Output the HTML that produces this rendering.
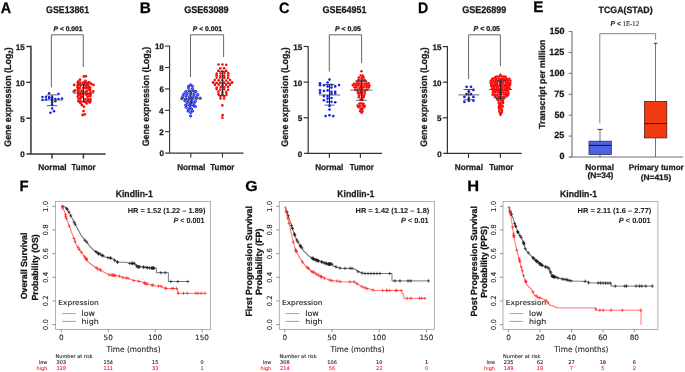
<!DOCTYPE html>
<html><head><meta charset="utf-8"><title>Figure</title>
<style>html,body{margin:0;padding:0;background:#fff;overflow:hidden;} svg{display:block;} text{text-rendering:geometricPrecision;}</style>
</head><body>
<svg width="685" height="372" viewBox="0 0 685 372">
<rect x="0" y="0" width="685" height="372" fill="#ffffff"/>
<text x="0.84" y="12.80" font-family="'Liberation Sans', Arial, sans-serif" font-weight="bold" font-size="15.36" textLength="10.38" lengthAdjust="spacingAndGlyphs" fill="#000" stroke="#000" stroke-width="0.25">A</text>
<text x="46.10" y="12.60" font-family="'Liberation Sans', Arial, sans-serif" font-weight="bold" font-size="9.79" textLength="43.00" lengthAdjust="spacingAndGlyphs" fill="#1a1a1a" stroke="#1a1a1a" stroke-width="0.25">GSE13861</text>
<text x="53.56" y="30.93" font-family="'Liberation Sans', Arial, sans-serif" font-weight="bold" font-size="6.76" textLength="29.07" lengthAdjust="spacingAndGlyphs" fill="#1a1a1a" stroke="#1a1a1a" stroke-width="0.25"><tspan font-style="italic">P</tspan> &lt; 0.001</text>
<polyline points="51.35,87.30 51.35,34.80 83.30,34.80 83.30,67.00" fill="none" stroke="#666" stroke-width="1.0"/>
<line x1="30.95" y1="45.75" x2="30.95" y2="154.10" stroke="#333333" stroke-width="1.5"/>
<line x1="26.50" y1="154.10" x2="105.60" y2="154.10" stroke="#333333" stroke-width="1.5"/>
<text x="20.33" y="157.47" font-family="'Liberation Sans', Arial, sans-serif" font-weight="bold" font-size="8.03" textLength="4.47" lengthAdjust="spacingAndGlyphs" fill="#1a1a1a" stroke="#1a1a1a" stroke-width="0.25">0</text>
<line x1="26.35" y1="118.23" x2="30.95" y2="118.23" stroke="#333333" stroke-width="1.5"/>
<text x="20.18" y="121.60" font-family="'Liberation Sans', Arial, sans-serif" font-weight="bold" font-size="8.14" textLength="4.53" lengthAdjust="spacingAndGlyphs" fill="#1a1a1a" stroke="#1a1a1a" stroke-width="0.25">5</text>
<line x1="26.35" y1="82.37" x2="30.95" y2="82.37" stroke="#333333" stroke-width="1.5"/>
<text x="15.87" y="85.74" font-family="'Liberation Sans', Arial, sans-serif" font-weight="bold" font-size="8.03" textLength="8.93" lengthAdjust="spacingAndGlyphs" fill="#1a1a1a" stroke="#1a1a1a" stroke-width="0.25">10</text>
<line x1="26.35" y1="46.50" x2="30.95" y2="46.50" stroke="#333333" stroke-width="1.5"/>
<text x="15.66" y="49.87" font-family="'Liberation Sans', Arial, sans-serif" font-weight="bold" font-size="8.14" textLength="9.06" lengthAdjust="spacingAndGlyphs" fill="#1a1a1a" stroke="#1a1a1a" stroke-width="0.25">15</text>
<line x1="52.05" y1="154.10" x2="52.05" y2="158.50" stroke="#333333" stroke-width="1.5"/>
<line x1="83.40" y1="154.10" x2="83.40" y2="158.50" stroke="#333333" stroke-width="1.5"/>
<text x="38.26" y="169.72" font-family="'Liberation Sans', Arial, sans-serif" font-weight="bold" font-size="8.30" textLength="28.37" lengthAdjust="spacingAndGlyphs" fill="#1a1a1a" stroke="#1a1a1a" stroke-width="0.25">Normal</text>
<text x="71.62" y="169.71" font-family="'Liberation Sans', Arial, sans-serif" font-weight="bold" font-size="8.71" textLength="23.97" lengthAdjust="spacingAndGlyphs" fill="#1a1a1a" stroke="#1a1a1a" stroke-width="0.25">Tumor</text>
<text x="10.90" y="146.75" transform="rotate(-90 10.90 146.75)" font-family="'Liberation Sans', Arial, sans-serif" font-weight="bold" font-size="9.52" textLength="99.45" lengthAdjust="spacingAndGlyphs" fill="#1a1a1a" stroke="#1a1a1a" stroke-width="0.25">Gene expression (Log<tspan font-size="6.66" dy="1.90">2</tspan><tspan dy="-1.90">)</tspan></text>
<circle cx="49.1" cy="93.3" r="1.25" fill="#1020ee"/>
<circle cx="58.5" cy="94.1" r="1.25" fill="#1020ee"/>
<circle cx="42.5" cy="97" r="1.25" fill="#1020ee"/>
<circle cx="42.5" cy="99.9" r="1.25" fill="#1020ee"/>
<circle cx="46" cy="96.8" r="1.25" fill="#1020ee"/>
<circle cx="46" cy="99.6" r="1.25" fill="#1020ee"/>
<circle cx="49.1" cy="97" r="1.25" fill="#1020ee"/>
<circle cx="49.1" cy="98.2" r="1.25" fill="#1020ee"/>
<circle cx="52.1" cy="97.2" r="1.25" fill="#1020ee"/>
<circle cx="52.1" cy="98.9" r="1.25" fill="#1020ee"/>
<circle cx="52.1" cy="100.5" r="1.25" fill="#1020ee"/>
<circle cx="55.4" cy="98.9" r="1.25" fill="#1020ee"/>
<circle cx="55.4" cy="101.2" r="1.25" fill="#1020ee"/>
<circle cx="58.5" cy="98.9" r="1.25" fill="#1020ee"/>
<circle cx="62" cy="98.6" r="1.25" fill="#1020ee"/>
<circle cx="52.1" cy="102.4" r="1.25" fill="#1020ee"/>
<circle cx="52.1" cy="104.8" r="1.25" fill="#1020ee"/>
<circle cx="52.1" cy="108.5" r="1.25" fill="#1020ee"/>
<circle cx="54" cy="111.2" r="1.25" fill="#1020ee"/>
<circle cx="50.5" cy="112.8" r="1.25" fill="#1020ee"/>
<line x1="41.35" y1="100.00" x2="62.85" y2="100.00" stroke="#505050" stroke-width="0.85"/>
<line x1="46.85" y1="94.90" x2="57.35" y2="94.90" stroke="#404040" stroke-width="0.85"/>
<line x1="46.85" y1="105.70" x2="57.35" y2="105.70" stroke="#404040" stroke-width="0.85"/>
<line x1="52.10" y1="94.90" x2="52.10" y2="105.70" stroke="#1a1a1a" stroke-width="0.95"/>
<circle cx="83.90" cy="76.50" r="1.4" fill="#f51010"/>
<circle cx="85.80" cy="76.20" r="1.4" fill="#f51010"/>
<circle cx="80.00" cy="79.70" r="1.4" fill="#f51010"/>
<circle cx="78.10" cy="81.70" r="1.4" fill="#f51010"/>
<circle cx="85.50" cy="81.00" r="1.4" fill="#f51010"/>
<circle cx="83.90" cy="82.30" r="1.4" fill="#f51010"/>
<circle cx="89.40" cy="82.30" r="1.4" fill="#f51010"/>
<circle cx="91.30" cy="83.90" r="1.4" fill="#f51010"/>
<circle cx="74.20" cy="84.90" r="1.4" fill="#f51010"/>
<circle cx="78.40" cy="84.90" r="1.4" fill="#f51010"/>
<circle cx="86.10" cy="84.90" r="1.4" fill="#f51010"/>
<circle cx="93.50" cy="84.90" r="1.4" fill="#f51010"/>
<circle cx="80.60" cy="85.50" r="1.4" fill="#f51010"/>
<circle cx="88.10" cy="85.50" r="1.4" fill="#f51010"/>
<circle cx="77.70" cy="87.50" r="1.4" fill="#f51010"/>
<circle cx="85.80" cy="87.50" r="1.4" fill="#f51010"/>
<circle cx="88.70" cy="87.50" r="1.4" fill="#f51010"/>
<circle cx="79.70" cy="88.10" r="1.4" fill="#f51010"/>
<circle cx="75.20" cy="90.40" r="1.4" fill="#f51010"/>
<circle cx="78.40" cy="90.40" r="1.4" fill="#f51010"/>
<circle cx="81.60" cy="90.70" r="1.4" fill="#f51010"/>
<circle cx="86.80" cy="90.70" r="1.4" fill="#f51010"/>
<circle cx="89.40" cy="90.10" r="1.4" fill="#f51010"/>
<circle cx="73.90" cy="91.40" r="1.4" fill="#f51010"/>
<circle cx="93.20" cy="91.40" r="1.4" fill="#f51010"/>
<circle cx="78.40" cy="93.90" r="1.4" fill="#f51010"/>
<circle cx="86.80" cy="93.90" r="1.4" fill="#f51010"/>
<circle cx="89.40" cy="93.90" r="1.4" fill="#f51010"/>
<circle cx="81.00" cy="94.30" r="1.4" fill="#f51010"/>
<circle cx="81.90" cy="105.00" r="1.4" fill="#f51010"/>
<circle cx="83.90" cy="106.60" r="1.4" fill="#f51010"/>
<circle cx="83.50" cy="111.10" r="1.4" fill="#f51010"/>
<circle cx="82.60" cy="115.00" r="1.4" fill="#f51010"/>
<circle cx="84.80" cy="114.30" r="1.4" fill="#f51010"/>
<circle cx="80.50" cy="103.20" r="1.4" fill="#f51010"/>
<circle cx="86.50" cy="103.40" r="1.4" fill="#f51010"/>
<circle cx="89.60" cy="102.60" r="1.4" fill="#f51010"/>
<circle cx="77.81" cy="82.89" r="1.4" fill="#f51010"/>
<circle cx="80.29" cy="82.61" r="1.4" fill="#f51010"/>
<circle cx="83.36" cy="82.65" r="1.4" fill="#f51010"/>
<circle cx="85.71" cy="82.64" r="1.4" fill="#f51010"/>
<circle cx="87.95" cy="82.91" r="1.4" fill="#f51010"/>
<circle cx="77.72" cy="85.74" r="1.4" fill="#f51010"/>
<circle cx="80.35" cy="85.13" r="1.4" fill="#f51010"/>
<circle cx="83.56" cy="85.01" r="1.4" fill="#f51010"/>
<circle cx="85.63" cy="85.35" r="1.4" fill="#f51010"/>
<circle cx="77.90" cy="87.94" r="1.4" fill="#f51010"/>
<circle cx="83.34" cy="87.97" r="1.4" fill="#f51010"/>
<circle cx="85.27" cy="87.90" r="1.4" fill="#f51010"/>
<circle cx="87.69" cy="87.74" r="1.4" fill="#f51010"/>
<circle cx="89.99" cy="87.44" r="1.4" fill="#f51010"/>
<circle cx="78.10" cy="90.05" r="1.4" fill="#f51010"/>
<circle cx="90.26" cy="89.58" r="1.4" fill="#f51010"/>
<circle cx="78.25" cy="92.37" r="1.4" fill="#f51010"/>
<circle cx="80.34" cy="92.62" r="1.4" fill="#f51010"/>
<circle cx="83.30" cy="91.80" r="1.4" fill="#f51010"/>
<circle cx="85.96" cy="92.35" r="1.4" fill="#f51010"/>
<circle cx="90.40" cy="92.50" r="1.4" fill="#f51010"/>
<circle cx="78.49" cy="94.56" r="1.4" fill="#f51010"/>
<circle cx="80.25" cy="94.98" r="1.4" fill="#f51010"/>
<circle cx="82.79" cy="94.34" r="1.4" fill="#f51010"/>
<circle cx="85.90" cy="94.48" r="1.4" fill="#f51010"/>
<circle cx="88.29" cy="94.28" r="1.4" fill="#f51010"/>
<circle cx="90.56" cy="94.64" r="1.4" fill="#f51010"/>
<circle cx="77.81" cy="96.44" r="1.4" fill="#f51010"/>
<circle cx="80.84" cy="97.27" r="1.4" fill="#f51010"/>
<circle cx="82.85" cy="97.07" r="1.4" fill="#f51010"/>
<circle cx="87.51" cy="96.68" r="1.4" fill="#f51010"/>
<circle cx="90.13" cy="96.35" r="1.4" fill="#f51010"/>
<circle cx="78.57" cy="98.65" r="1.4" fill="#f51010"/>
<circle cx="80.36" cy="98.79" r="1.4" fill="#f51010"/>
<circle cx="85.23" cy="99.05" r="1.4" fill="#f51010"/>
<circle cx="88.02" cy="99.46" r="1.4" fill="#f51010"/>
<circle cx="90.47" cy="99.32" r="1.4" fill="#f51010"/>
<circle cx="78.42" cy="101.37" r="1.4" fill="#f51010"/>
<circle cx="80.27" cy="101.68" r="1.4" fill="#f51010"/>
<circle cx="83.54" cy="101.59" r="1.4" fill="#f51010"/>
<circle cx="85.22" cy="101.75" r="1.4" fill="#f51010"/>
<circle cx="87.92" cy="101.04" r="1.4" fill="#f51010"/>
<circle cx="90.26" cy="101.33" r="1.4" fill="#f51010"/>
<line x1="72.75" y1="93.10" x2="94.25" y2="93.10" stroke="#505050" stroke-width="0.85"/>
<line x1="77.50" y1="84.10" x2="89.50" y2="84.10" stroke="#404040" stroke-width="0.85"/>
<line x1="77.50" y1="101.20" x2="89.50" y2="101.20" stroke="#404040" stroke-width="0.85"/>
<line x1="83.50" y1="84.10" x2="83.50" y2="101.20" stroke="#1a1a1a" stroke-width="0.95"/>
<text x="139.70" y="12.80" font-family="'Liberation Sans', Arial, sans-serif" font-weight="bold" font-size="15.36" textLength="11.16" lengthAdjust="spacingAndGlyphs" fill="#000" stroke="#000" stroke-width="0.25">B</text>
<text x="184.14" y="12.60" font-family="'Liberation Sans', Arial, sans-serif" font-weight="bold" font-size="9.79" textLength="44.51" lengthAdjust="spacingAndGlyphs" fill="#1a1a1a" stroke="#1a1a1a" stroke-width="0.25">GSE63089</text>
<text x="192.86" y="31.33" font-family="'Liberation Sans', Arial, sans-serif" font-weight="bold" font-size="6.76" textLength="29.12" lengthAdjust="spacingAndGlyphs" fill="#1a1a1a" stroke="#1a1a1a" stroke-width="0.25"><tspan font-style="italic">P</tspan> &lt; 0.001</text>
<polyline points="190.50,77.00 190.50,34.80 223.60,34.80 223.60,57.00" fill="none" stroke="#666" stroke-width="1.0"/>
<line x1="169.60" y1="45.55" x2="169.60" y2="153.10" stroke="#333333" stroke-width="1.1"/>
<line x1="165.20" y1="153.10" x2="243.50" y2="153.10" stroke="#333333" stroke-width="1.1"/>
<text x="159.43" y="156.47" font-family="'Liberation Sans', Arial, sans-serif" font-weight="bold" font-size="8.03" textLength="4.47" lengthAdjust="spacingAndGlyphs" fill="#1a1a1a" stroke="#1a1a1a" stroke-width="0.25">0</text>
<line x1="165.00" y1="131.70" x2="169.60" y2="131.70" stroke="#333333" stroke-width="1.1"/>
<text x="159.37" y="135.15" font-family="'Liberation Sans', Arial, sans-serif" font-weight="bold" font-size="8.14" textLength="4.53" lengthAdjust="spacingAndGlyphs" fill="#1a1a1a" stroke="#1a1a1a" stroke-width="0.25">2</text>
<line x1="165.00" y1="110.30" x2="169.60" y2="110.30" stroke="#333333" stroke-width="1.1"/>
<text x="159.02" y="113.75" font-family="'Liberation Sans', Arial, sans-serif" font-weight="bold" font-size="8.26" textLength="4.59" lengthAdjust="spacingAndGlyphs" fill="#1a1a1a" stroke="#1a1a1a" stroke-width="0.25">4</text>
<line x1="165.00" y1="88.90" x2="169.60" y2="88.90" stroke="#333333" stroke-width="1.1"/>
<text x="159.43" y="92.27" font-family="'Liberation Sans', Arial, sans-serif" font-weight="bold" font-size="8.03" textLength="4.47" lengthAdjust="spacingAndGlyphs" fill="#1a1a1a" stroke="#1a1a1a" stroke-width="0.25">6</text>
<line x1="165.00" y1="67.50" x2="169.60" y2="67.50" stroke="#333333" stroke-width="1.1"/>
<text x="159.35" y="70.87" font-family="'Liberation Sans', Arial, sans-serif" font-weight="bold" font-size="8.03" textLength="4.47" lengthAdjust="spacingAndGlyphs" fill="#1a1a1a" stroke="#1a1a1a" stroke-width="0.25">8</text>
<line x1="165.00" y1="46.10" x2="169.60" y2="46.10" stroke="#333333" stroke-width="1.1"/>
<text x="154.97" y="49.47" font-family="'Liberation Sans', Arial, sans-serif" font-weight="bold" font-size="8.03" textLength="8.93" lengthAdjust="spacingAndGlyphs" fill="#1a1a1a" stroke="#1a1a1a" stroke-width="0.25">10</text>
<line x1="190.80" y1="153.10" x2="190.80" y2="157.50" stroke="#333333" stroke-width="1.1"/>
<line x1="222.50" y1="153.10" x2="222.50" y2="157.50" stroke="#333333" stroke-width="1.1"/>
<text x="177.17" y="169.72" font-family="'Liberation Sans', Arial, sans-serif" font-weight="bold" font-size="8.30" textLength="28.17" lengthAdjust="spacingAndGlyphs" fill="#1a1a1a" stroke="#1a1a1a" stroke-width="0.25">Normal</text>
<text x="210.32" y="169.71" font-family="'Liberation Sans', Arial, sans-serif" font-weight="bold" font-size="8.71" textLength="24.07" lengthAdjust="spacingAndGlyphs" fill="#1a1a1a" stroke="#1a1a1a" stroke-width="0.25">Tumor</text>
<text x="149.30" y="146.35" transform="rotate(-90 149.30 146.35)" font-family="'Liberation Sans', Arial, sans-serif" font-weight="bold" font-size="9.52" textLength="99.45" lengthAdjust="spacingAndGlyphs" fill="#1a1a1a" stroke="#1a1a1a" stroke-width="0.25">Gene expression (Log<tspan font-size="6.66" dy="1.90">2</tspan><tspan dy="-1.90">)</tspan></text>
<circle cx="190.6" cy="84.9" r="1.15" fill="#7080ff" stroke="#1020ee" stroke-width="0.9"/>
<circle cx="188.6" cy="86.3" r="1.15" fill="#7080ff" stroke="#1020ee" stroke-width="0.9"/>
<circle cx="192.5" cy="86.3" r="1.15" fill="#7080ff" stroke="#1020ee" stroke-width="0.9"/>
<circle cx="188.6" cy="88.3" r="1.15" fill="#7080ff" stroke="#1020ee" stroke-width="0.9"/>
<circle cx="192.5" cy="88.8" r="1.15" fill="#7080ff" stroke="#1020ee" stroke-width="0.9"/>
<circle cx="185.7" cy="91.7" r="1.15" fill="#7080ff" stroke="#1020ee" stroke-width="0.9"/>
<circle cx="189.6" cy="91.2" r="1.15" fill="#7080ff" stroke="#1020ee" stroke-width="0.9"/>
<circle cx="193.5" cy="91.2" r="1.15" fill="#7080ff" stroke="#1020ee" stroke-width="0.9"/>
<circle cx="195.9" cy="91.7" r="1.15" fill="#7080ff" stroke="#1020ee" stroke-width="0.9"/>
<circle cx="183.8" cy="94.1" r="1.15" fill="#7080ff" stroke="#1020ee" stroke-width="0.9"/>
<circle cx="187.2" cy="93.6" r="1.15" fill="#7080ff" stroke="#1020ee" stroke-width="0.9"/>
<circle cx="190.6" cy="93.6" r="1.15" fill="#7080ff" stroke="#1020ee" stroke-width="0.9"/>
<circle cx="194" cy="94.1" r="1.15" fill="#7080ff" stroke="#1020ee" stroke-width="0.9"/>
<circle cx="197.8" cy="94.6" r="1.15" fill="#7080ff" stroke="#1020ee" stroke-width="0.9"/>
<circle cx="182.8" cy="96.5" r="1.15" fill="#7080ff" stroke="#1020ee" stroke-width="0.9"/>
<circle cx="186.2" cy="96" r="1.15" fill="#7080ff" stroke="#1020ee" stroke-width="0.9"/>
<circle cx="189.6" cy="96.5" r="1.15" fill="#7080ff" stroke="#1020ee" stroke-width="0.9"/>
<circle cx="193.5" cy="96.5" r="1.15" fill="#7080ff" stroke="#1020ee" stroke-width="0.9"/>
<circle cx="196.8" cy="96.5" r="1.15" fill="#7080ff" stroke="#1020ee" stroke-width="0.9"/>
<circle cx="181.9" cy="98.6" r="1.15" fill="#7080ff" stroke="#1020ee" stroke-width="0.9"/>
<circle cx="185.7" cy="98.9" r="1.15" fill="#7080ff" stroke="#1020ee" stroke-width="0.9"/>
<circle cx="189.1" cy="98.6" r="1.15" fill="#7080ff" stroke="#1020ee" stroke-width="0.9"/>
<circle cx="192.5" cy="98.6" r="1.15" fill="#7080ff" stroke="#1020ee" stroke-width="0.9"/>
<circle cx="196.4" cy="98.4" r="1.15" fill="#7080ff" stroke="#1020ee" stroke-width="0.9"/>
<circle cx="200.2" cy="98.2" r="1.15" fill="#7080ff" stroke="#1020ee" stroke-width="0.9"/>
<circle cx="184.8" cy="100.8" r="1.15" fill="#7080ff" stroke="#1020ee" stroke-width="0.9"/>
<circle cx="188.1" cy="100.8" r="1.15" fill="#7080ff" stroke="#1020ee" stroke-width="0.9"/>
<circle cx="192" cy="101.3" r="1.15" fill="#7080ff" stroke="#1020ee" stroke-width="0.9"/>
<circle cx="195.4" cy="101.3" r="1.15" fill="#7080ff" stroke="#1020ee" stroke-width="0.9"/>
<circle cx="187.2" cy="102.8" r="1.15" fill="#7080ff" stroke="#1020ee" stroke-width="0.9"/>
<circle cx="190.6" cy="102.8" r="1.15" fill="#7080ff" stroke="#1020ee" stroke-width="0.9"/>
<circle cx="193.9" cy="103.3" r="1.15" fill="#7080ff" stroke="#1020ee" stroke-width="0.9"/>
<circle cx="185.7" cy="105.2" r="1.15" fill="#7080ff" stroke="#1020ee" stroke-width="0.9"/>
<circle cx="189.6" cy="105.2" r="1.15" fill="#7080ff" stroke="#1020ee" stroke-width="0.9"/>
<circle cx="193.5" cy="105.7" r="1.15" fill="#7080ff" stroke="#1020ee" stroke-width="0.9"/>
<circle cx="186.2" cy="107.3" r="1.15" fill="#7080ff" stroke="#1020ee" stroke-width="0.9"/>
<circle cx="190.1" cy="107.3" r="1.15" fill="#7080ff" stroke="#1020ee" stroke-width="0.9"/>
<circle cx="195.4" cy="106.6" r="1.15" fill="#7080ff" stroke="#1020ee" stroke-width="0.9"/>
<circle cx="188.6" cy="109.5" r="1.15" fill="#7080ff" stroke="#1020ee" stroke-width="0.9"/>
<circle cx="191.5" cy="109.1" r="1.15" fill="#7080ff" stroke="#1020ee" stroke-width="0.9"/>
<circle cx="188.1" cy="111" r="1.15" fill="#7080ff" stroke="#1020ee" stroke-width="0.9"/>
<circle cx="192.5" cy="111" r="1.15" fill="#7080ff" stroke="#1020ee" stroke-width="0.9"/>
<circle cx="190.6" cy="112.7" r="1.15" fill="#7080ff" stroke="#1020ee" stroke-width="0.9"/>
<circle cx="190.6" cy="116" r="1.15" fill="#7080ff" stroke="#1020ee" stroke-width="0.9"/>
<line x1="180.00" y1="98.70" x2="202.00" y2="98.70" stroke="#505050" stroke-width="0.85"/>
<line x1="186.00" y1="90.80" x2="196.00" y2="90.80" stroke="#404040" stroke-width="0.85"/>
<line x1="186.00" y1="105.30" x2="196.00" y2="105.30" stroke="#404040" stroke-width="0.85"/>
<line x1="191.00" y1="90.80" x2="191.00" y2="105.30" stroke="#1a1a1a" stroke-width="0.95"/>
<circle cx="218.53" cy="64.52" r="1.3" fill="#f51010"/>
<circle cx="222.46" cy="64.46" r="1.3" fill="#f51010"/>
<circle cx="226.21" cy="64.69" r="1.3" fill="#f51010"/>
<circle cx="220.32" cy="68.41" r="1.3" fill="#f51010"/>
<circle cx="224.11" cy="68.35" r="1.3" fill="#f51010"/>
<circle cx="218.43" cy="70.67" r="1.3" fill="#f51010"/>
<circle cx="222.37" cy="71.26" r="1.3" fill="#f51010"/>
<circle cx="226.05" cy="70.78" r="1.3" fill="#f51010"/>
<circle cx="216.75" cy="73.66" r="1.3" fill="#f51010"/>
<circle cx="220.53" cy="73.22" r="1.3" fill="#f51010"/>
<circle cx="224.49" cy="72.94" r="1.3" fill="#f51010"/>
<circle cx="228.24" cy="73.13" r="1.3" fill="#f51010"/>
<circle cx="216.56" cy="75.29" r="1.3" fill="#f51010"/>
<circle cx="220.42" cy="75.85" r="1.3" fill="#f51010"/>
<circle cx="224.17" cy="75.67" r="1.3" fill="#f51010"/>
<circle cx="228.16" cy="75.50" r="1.3" fill="#f51010"/>
<circle cx="216.72" cy="77.55" r="1.3" fill="#f51010"/>
<circle cx="220.32" cy="77.66" r="1.3" fill="#f51010"/>
<circle cx="224.37" cy="77.84" r="1.3" fill="#f51010"/>
<circle cx="228.03" cy="77.97" r="1.3" fill="#f51010"/>
<circle cx="214.78" cy="80.04" r="1.3" fill="#f51010"/>
<circle cx="218.72" cy="80.36" r="1.3" fill="#f51010"/>
<circle cx="222.30" cy="80.26" r="1.3" fill="#f51010"/>
<circle cx="226.21" cy="80.50" r="1.3" fill="#f51010"/>
<circle cx="230.09" cy="80.03" r="1.3" fill="#f51010"/>
<circle cx="213.09" cy="82.19" r="1.3" fill="#f51010"/>
<circle cx="216.67" cy="82.71" r="1.3" fill="#f51010"/>
<circle cx="220.36" cy="82.49" r="1.3" fill="#f51010"/>
<circle cx="224.12" cy="82.63" r="1.3" fill="#f51010"/>
<circle cx="228.21" cy="82.56" r="1.3" fill="#f51010"/>
<circle cx="232.05" cy="82.35" r="1.3" fill="#f51010"/>
<circle cx="214.88" cy="84.88" r="1.3" fill="#f51010"/>
<circle cx="218.63" cy="84.76" r="1.3" fill="#f51010"/>
<circle cx="222.54" cy="85.16" r="1.3" fill="#f51010"/>
<circle cx="226.19" cy="84.93" r="1.3" fill="#f51010"/>
<circle cx="229.82" cy="84.96" r="1.3" fill="#f51010"/>
<circle cx="216.76" cy="87.49" r="1.3" fill="#f51010"/>
<circle cx="220.63" cy="86.93" r="1.3" fill="#f51010"/>
<circle cx="224.25" cy="87.23" r="1.3" fill="#f51010"/>
<circle cx="227.91" cy="87.07" r="1.3" fill="#f51010"/>
<circle cx="216.57" cy="89.09" r="1.3" fill="#f51010"/>
<circle cx="220.32" cy="89.61" r="1.3" fill="#f51010"/>
<circle cx="224.15" cy="89.20" r="1.3" fill="#f51010"/>
<circle cx="228.06" cy="89.70" r="1.3" fill="#f51010"/>
<circle cx="218.43" cy="91.66" r="1.3" fill="#f51010"/>
<circle cx="222.42" cy="92.01" r="1.3" fill="#f51010"/>
<circle cx="226.33" cy="91.99" r="1.3" fill="#f51010"/>
<circle cx="218.51" cy="93.93" r="1.3" fill="#f51010"/>
<circle cx="222.34" cy="94.31" r="1.3" fill="#f51010"/>
<circle cx="226.38" cy="93.72" r="1.3" fill="#f51010"/>
<circle cx="220.37" cy="96.09" r="1.3" fill="#f51010"/>
<circle cx="224.19" cy="96.29" r="1.3" fill="#f51010"/>
<circle cx="220.54" cy="98.41" r="1.3" fill="#f51010"/>
<circle cx="224.10" cy="98.54" r="1.3" fill="#f51010"/>
<circle cx="222.35" cy="105.35" r="1.3" fill="#f51010"/>
<circle cx="222.58" cy="115.15" r="1.3" fill="#f51010"/>
<circle cx="222.41" cy="117.69" r="1.3" fill="#f51010"/>
<line x1="212.10" y1="83.40" x2="233.10" y2="83.40" stroke="#505050" stroke-width="0.85"/>
<line x1="217.60" y1="71.50" x2="227.60" y2="71.50" stroke="#404040" stroke-width="0.85"/>
<line x1="217.60" y1="95.60" x2="227.60" y2="95.60" stroke="#404040" stroke-width="0.85"/>
<line x1="222.60" y1="71.50" x2="222.60" y2="95.60" stroke="#1a1a1a" stroke-width="0.95"/>
<text x="278.92" y="12.65" font-family="'Liberation Sans', Arial, sans-serif" font-weight="bold" font-size="14.93" textLength="10.47" lengthAdjust="spacingAndGlyphs" fill="#000" stroke="#000" stroke-width="0.25">C</text>
<text x="322.44" y="12.60" font-family="'Liberation Sans', Arial, sans-serif" font-weight="bold" font-size="9.79" textLength="44.21" lengthAdjust="spacingAndGlyphs" fill="#1a1a1a" stroke="#1a1a1a" stroke-width="0.25">GSE64951</text>
<text x="334.95" y="31.33" font-family="'Liberation Sans', Arial, sans-serif" font-weight="bold" font-size="6.76" textLength="26.03" lengthAdjust="spacingAndGlyphs" fill="#1a1a1a" stroke="#1a1a1a" stroke-width="0.25"><tspan font-style="italic">P</tspan> &lt; 0.05</text>
<polyline points="329.30,71.60 329.30,34.80 361.60,34.80 361.60,63.00" fill="none" stroke="#666" stroke-width="1.0"/>
<line x1="308.20" y1="45.90" x2="308.20" y2="153.40" stroke="#333333" stroke-width="1.2"/>
<line x1="304.10" y1="153.40" x2="382.00" y2="153.40" stroke="#333333" stroke-width="1.2"/>
<text x="297.83" y="156.77" font-family="'Liberation Sans', Arial, sans-serif" font-weight="bold" font-size="8.03" textLength="4.47" lengthAdjust="spacingAndGlyphs" fill="#1a1a1a" stroke="#1a1a1a" stroke-width="0.25">0</text>
<line x1="303.60" y1="117.77" x2="308.20" y2="117.77" stroke="#333333" stroke-width="1.2"/>
<text x="297.68" y="121.14" font-family="'Liberation Sans', Arial, sans-serif" font-weight="bold" font-size="8.14" textLength="4.53" lengthAdjust="spacingAndGlyphs" fill="#1a1a1a" stroke="#1a1a1a" stroke-width="0.25">5</text>
<line x1="303.60" y1="82.13" x2="308.20" y2="82.13" stroke="#333333" stroke-width="1.2"/>
<text x="293.37" y="85.50" font-family="'Liberation Sans', Arial, sans-serif" font-weight="bold" font-size="8.03" textLength="8.93" lengthAdjust="spacingAndGlyphs" fill="#1a1a1a" stroke="#1a1a1a" stroke-width="0.25">10</text>
<line x1="303.60" y1="46.50" x2="308.20" y2="46.50" stroke="#333333" stroke-width="1.2"/>
<text x="293.16" y="49.87" font-family="'Liberation Sans', Arial, sans-serif" font-weight="bold" font-size="8.14" textLength="9.06" lengthAdjust="spacingAndGlyphs" fill="#1a1a1a" stroke="#1a1a1a" stroke-width="0.25">15</text>
<line x1="329.40" y1="153.40" x2="329.40" y2="157.80" stroke="#333333" stroke-width="1.2"/>
<line x1="360.40" y1="153.40" x2="360.40" y2="157.80" stroke="#333333" stroke-width="1.2"/>
<text x="315.17" y="169.72" font-family="'Liberation Sans', Arial, sans-serif" font-weight="bold" font-size="8.30" textLength="28.17" lengthAdjust="spacingAndGlyphs" fill="#1a1a1a" stroke="#1a1a1a" stroke-width="0.25">Normal</text>
<text x="349.82" y="169.71" font-family="'Liberation Sans', Arial, sans-serif" font-weight="bold" font-size="8.71" textLength="23.97" lengthAdjust="spacingAndGlyphs" fill="#1a1a1a" stroke="#1a1a1a" stroke-width="0.25">Tumor</text>
<text x="287.70" y="146.75" transform="rotate(-90 287.70 146.75)" font-family="'Liberation Sans', Arial, sans-serif" font-weight="bold" font-size="9.52" textLength="99.45" lengthAdjust="spacingAndGlyphs" fill="#1a1a1a" stroke="#1a1a1a" stroke-width="0.25">Gene expression (Log<tspan font-size="6.66" dy="1.90">2</tspan><tspan dy="-1.90">)</tspan></text>
<circle cx="329.5" cy="79.6" r="1.3" fill="#1020ee"/>
<circle cx="327.6" cy="82.5" r="1.3" fill="#1020ee"/>
<circle cx="320" cy="83.3" r="1.3" fill="#1020ee"/>
<circle cx="320" cy="85.3" r="1.3" fill="#1020ee"/>
<circle cx="323.9" cy="85.3" r="1.3" fill="#1020ee"/>
<circle cx="327.6" cy="86.4" r="1.3" fill="#1020ee"/>
<circle cx="331.5" cy="84.7" r="1.3" fill="#1020ee"/>
<circle cx="331.5" cy="87.6" r="1.3" fill="#1020ee"/>
<circle cx="335.2" cy="86.4" r="1.3" fill="#1020ee"/>
<circle cx="339.1" cy="85" r="1.3" fill="#1020ee"/>
<circle cx="320" cy="90.4" r="1.3" fill="#1020ee"/>
<circle cx="320" cy="92.7" r="1.3" fill="#1020ee"/>
<circle cx="323.9" cy="91" r="1.3" fill="#1020ee"/>
<circle cx="327.6" cy="90.4" r="1.3" fill="#1020ee"/>
<circle cx="331.5" cy="91.8" r="1.3" fill="#1020ee"/>
<circle cx="335.2" cy="91.8" r="1.3" fill="#1020ee"/>
<circle cx="335.2" cy="93.5" r="1.3" fill="#1020ee"/>
<circle cx="323.9" cy="96.1" r="1.3" fill="#1020ee"/>
<circle cx="327.6" cy="96.1" r="1.3" fill="#1020ee"/>
<circle cx="331.5" cy="94" r="1.3" fill="#1020ee"/>
<circle cx="327.6" cy="98.6" r="1.3" fill="#1020ee"/>
<circle cx="331.5" cy="98" r="1.3" fill="#1020ee"/>
<circle cx="323.9" cy="100.3" r="1.3" fill="#1020ee"/>
<circle cx="327.6" cy="101.7" r="1.3" fill="#1020ee"/>
<circle cx="331.5" cy="101.7" r="1.3" fill="#1020ee"/>
<circle cx="335.2" cy="102.2" r="1.3" fill="#1020ee"/>
<circle cx="329.5" cy="105.9" r="1.3" fill="#1020ee"/>
<circle cx="329.5" cy="109.6" r="1.3" fill="#1020ee"/>
<circle cx="325.6" cy="116.1" r="1.3" fill="#1020ee"/>
<circle cx="329.5" cy="115.3" r="1.3" fill="#1020ee"/>
<circle cx="333.3" cy="116.1" r="1.3" fill="#1020ee"/>
<line x1="318.75" y1="95.00" x2="340.25" y2="95.00" stroke="#505050" stroke-width="0.85"/>
<line x1="324.50" y1="84.50" x2="334.50" y2="84.50" stroke="#404040" stroke-width="0.85"/>
<line x1="324.50" y1="105.10" x2="334.50" y2="105.10" stroke="#404040" stroke-width="0.85"/>
<line x1="329.50" y1="84.50" x2="329.50" y2="105.10" stroke="#1a1a1a" stroke-width="0.95"/>
<circle cx="361.45" cy="71.25" r="1.3" fill="#f51010"/>
<circle cx="360.72" cy="75.47" r="1.3" fill="#f51010"/>
<circle cx="362.71" cy="75.57" r="1.3" fill="#f51010"/>
<circle cx="358.78" cy="77.51" r="1.3" fill="#f51010"/>
<circle cx="361.63" cy="77.73" r="1.3" fill="#f51010"/>
<circle cx="363.49" cy="77.34" r="1.3" fill="#f51010"/>
<circle cx="358.69" cy="79.75" r="1.3" fill="#f51010"/>
<circle cx="361.69" cy="79.13" r="1.3" fill="#f51010"/>
<circle cx="364.38" cy="79.87" r="1.3" fill="#f51010"/>
<circle cx="356.85" cy="81.59" r="1.3" fill="#f51010"/>
<circle cx="358.76" cy="81.11" r="1.3" fill="#f51010"/>
<circle cx="361.53" cy="81.15" r="1.3" fill="#f51010"/>
<circle cx="363.59" cy="81.29" r="1.3" fill="#f51010"/>
<circle cx="365.83" cy="81.47" r="1.3" fill="#f51010"/>
<circle cx="354.24" cy="83.77" r="1.3" fill="#f51010"/>
<circle cx="356.72" cy="83.61" r="1.3" fill="#f51010"/>
<circle cx="359.10" cy="83.63" r="1.3" fill="#f51010"/>
<circle cx="361.46" cy="83.32" r="1.3" fill="#f51010"/>
<circle cx="364.40" cy="83.90" r="1.3" fill="#f51010"/>
<circle cx="366.64" cy="83.67" r="1.3" fill="#f51010"/>
<circle cx="368.52" cy="83.28" r="1.3" fill="#f51010"/>
<circle cx="352.89" cy="85.16" r="1.3" fill="#f51010"/>
<circle cx="355.77" cy="85.42" r="1.3" fill="#f51010"/>
<circle cx="358.25" cy="85.41" r="1.3" fill="#f51010"/>
<circle cx="360.76" cy="85.78" r="1.3" fill="#f51010"/>
<circle cx="362.20" cy="85.27" r="1.3" fill="#f51010"/>
<circle cx="365.51" cy="85.48" r="1.3" fill="#f51010"/>
<circle cx="367.98" cy="85.42" r="1.3" fill="#f51010"/>
<circle cx="369.47" cy="85.60" r="1.3" fill="#f51010"/>
<circle cx="354.58" cy="87.32" r="1.3" fill="#f51010"/>
<circle cx="356.29" cy="87.37" r="1.3" fill="#f51010"/>
<circle cx="359.56" cy="87.71" r="1.3" fill="#f51010"/>
<circle cx="361.12" cy="87.30" r="1.3" fill="#f51010"/>
<circle cx="363.50" cy="87.15" r="1.3" fill="#f51010"/>
<circle cx="366.60" cy="87.24" r="1.3" fill="#f51010"/>
<circle cx="368.76" cy="87.46" r="1.3" fill="#f51010"/>
<circle cx="355.19" cy="89.69" r="1.3" fill="#f51010"/>
<circle cx="357.53" cy="89.61" r="1.3" fill="#f51010"/>
<circle cx="359.92" cy="89.44" r="1.3" fill="#f51010"/>
<circle cx="362.41" cy="89.32" r="1.3" fill="#f51010"/>
<circle cx="365.57" cy="89.74" r="1.3" fill="#f51010"/>
<circle cx="367.30" cy="89.81" r="1.3" fill="#f51010"/>
<circle cx="357.61" cy="91.42" r="1.3" fill="#f51010"/>
<circle cx="360.65" cy="91.61" r="1.3" fill="#f51010"/>
<circle cx="362.30" cy="91.89" r="1.3" fill="#f51010"/>
<circle cx="364.81" cy="91.31" r="1.3" fill="#f51010"/>
<circle cx="358.17" cy="93.36" r="1.3" fill="#f51010"/>
<circle cx="360.10" cy="93.16" r="1.3" fill="#f51010"/>
<circle cx="362.29" cy="93.57" r="1.3" fill="#f51010"/>
<circle cx="364.84" cy="93.58" r="1.3" fill="#f51010"/>
<circle cx="358.97" cy="95.46" r="1.3" fill="#f51010"/>
<circle cx="361.96" cy="95.49" r="1.3" fill="#f51010"/>
<circle cx="363.97" cy="95.79" r="1.3" fill="#f51010"/>
<circle cx="358.78" cy="97.22" r="1.3" fill="#f51010"/>
<circle cx="361.91" cy="97.75" r="1.3" fill="#f51010"/>
<circle cx="363.65" cy="97.25" r="1.3" fill="#f51010"/>
<circle cx="360.54" cy="99.85" r="1.3" fill="#f51010"/>
<circle cx="362.40" cy="99.86" r="1.3" fill="#f51010"/>
<circle cx="359.48" cy="103.58" r="1.3" fill="#f51010"/>
<circle cx="361.42" cy="103.18" r="1.3" fill="#f51010"/>
<circle cx="363.44" cy="103.87" r="1.3" fill="#f51010"/>
<circle cx="357.64" cy="105.66" r="1.3" fill="#f51010"/>
<circle cx="360.06" cy="105.76" r="1.3" fill="#f51010"/>
<circle cx="362.80" cy="105.33" r="1.3" fill="#f51010"/>
<circle cx="364.78" cy="105.68" r="1.3" fill="#f51010"/>
<circle cx="358.67" cy="107.28" r="1.3" fill="#f51010"/>
<circle cx="361.56" cy="107.78" r="1.3" fill="#f51010"/>
<circle cx="364.01" cy="107.32" r="1.3" fill="#f51010"/>
<circle cx="360.72" cy="109.26" r="1.3" fill="#f51010"/>
<circle cx="362.22" cy="109.32" r="1.3" fill="#f51010"/>
<circle cx="360.25" cy="111.15" r="1.3" fill="#f51010"/>
<circle cx="362.38" cy="111.40" r="1.3" fill="#f51010"/>
<circle cx="361.57" cy="112.71" r="1.3" fill="#f51010"/>
<line x1="350.40" y1="90.10" x2="372.40" y2="90.10" stroke="#505050" stroke-width="0.85"/>
<line x1="356.15" y1="80.30" x2="366.65" y2="80.30" stroke="#404040" stroke-width="0.85"/>
<line x1="356.15" y1="100.30" x2="366.65" y2="100.30" stroke="#404040" stroke-width="0.85"/>
<line x1="361.40" y1="80.30" x2="361.40" y2="100.30" stroke="#1a1a1a" stroke-width="0.95"/>
<text x="417.88" y="12.90" font-family="'Liberation Sans', Arial, sans-serif" font-weight="bold" font-size="15.22" textLength="10.25" lengthAdjust="spacingAndGlyphs" fill="#000" stroke="#000" stroke-width="0.25">D</text>
<text x="462.24" y="12.60" font-family="'Liberation Sans', Arial, sans-serif" font-weight="bold" font-size="9.79" textLength="44.10" lengthAdjust="spacingAndGlyphs" fill="#1a1a1a" stroke="#1a1a1a" stroke-width="0.25">GSE26899</text>
<text x="473.54" y="31.43" font-family="'Liberation Sans', Arial, sans-serif" font-weight="bold" font-size="7.18" textLength="26.44" lengthAdjust="spacingAndGlyphs" fill="#1a1a1a" stroke="#1a1a1a" stroke-width="0.25"><tspan font-style="italic">P</tspan> &lt; 0.05</text>
<polyline points="468.60,79.00 468.60,34.80 500.40,34.80 500.40,66.20" fill="none" stroke="#666" stroke-width="1.0"/>
<line x1="447.40" y1="46.00" x2="447.40" y2="153.40" stroke="#333333" stroke-width="1.2"/>
<line x1="443.20" y1="153.40" x2="521.70" y2="153.40" stroke="#333333" stroke-width="1.2"/>
<text x="437.13" y="156.77" font-family="'Liberation Sans', Arial, sans-serif" font-weight="bold" font-size="8.03" textLength="4.47" lengthAdjust="spacingAndGlyphs" fill="#1a1a1a" stroke="#1a1a1a" stroke-width="0.25">0</text>
<line x1="442.80" y1="117.80" x2="447.40" y2="117.80" stroke="#333333" stroke-width="1.2"/>
<text x="436.98" y="121.17" font-family="'Liberation Sans', Arial, sans-serif" font-weight="bold" font-size="8.14" textLength="4.53" lengthAdjust="spacingAndGlyphs" fill="#1a1a1a" stroke="#1a1a1a" stroke-width="0.25">5</text>
<line x1="442.80" y1="82.20" x2="447.40" y2="82.20" stroke="#333333" stroke-width="1.2"/>
<text x="432.67" y="85.57" font-family="'Liberation Sans', Arial, sans-serif" font-weight="bold" font-size="8.03" textLength="8.93" lengthAdjust="spacingAndGlyphs" fill="#1a1a1a" stroke="#1a1a1a" stroke-width="0.25">10</text>
<line x1="442.80" y1="46.60" x2="447.40" y2="46.60" stroke="#333333" stroke-width="1.2"/>
<text x="432.46" y="49.97" font-family="'Liberation Sans', Arial, sans-serif" font-weight="bold" font-size="8.14" textLength="9.06" lengthAdjust="spacingAndGlyphs" fill="#1a1a1a" stroke="#1a1a1a" stroke-width="0.25">15</text>
<line x1="468.50" y1="153.40" x2="468.50" y2="157.80" stroke="#333333" stroke-width="1.2"/>
<line x1="500.40" y1="153.40" x2="500.40" y2="157.80" stroke="#333333" stroke-width="1.2"/>
<text x="454.77" y="169.72" font-family="'Liberation Sans', Arial, sans-serif" font-weight="bold" font-size="8.30" textLength="28.17" lengthAdjust="spacingAndGlyphs" fill="#1a1a1a" stroke="#1a1a1a" stroke-width="0.25">Normal</text>
<text x="489.32" y="169.71" font-family="'Liberation Sans', Arial, sans-serif" font-weight="bold" font-size="8.71" textLength="23.97" lengthAdjust="spacingAndGlyphs" fill="#1a1a1a" stroke="#1a1a1a" stroke-width="0.25">Tumor</text>
<text x="427.20" y="146.75" transform="rotate(-90 427.20 146.75)" font-family="'Liberation Sans', Arial, sans-serif" font-weight="bold" font-size="9.52" textLength="99.45" lengthAdjust="spacingAndGlyphs" fill="#1a1a1a" stroke="#1a1a1a" stroke-width="0.25">Gene expression (Log<tspan font-size="6.66" dy="1.90">2</tspan><tspan dy="-1.90">)</tspan></text>
<circle cx="466.6" cy="86.8" r="1.35" fill="#1020ee"/>
<circle cx="471" cy="86.8" r="1.35" fill="#1020ee"/>
<circle cx="473.4" cy="89.9" r="1.35" fill="#1020ee"/>
<circle cx="468.8" cy="91.5" r="1.35" fill="#1020ee"/>
<circle cx="466.6" cy="94.2" r="1.35" fill="#1020ee"/>
<circle cx="471" cy="94.2" r="1.35" fill="#1020ee"/>
<circle cx="464.4" cy="96.9" r="1.35" fill="#1020ee"/>
<circle cx="473.4" cy="96.9" r="1.35" fill="#1020ee"/>
<circle cx="468.8" cy="98.6" r="1.35" fill="#1020ee"/>
<circle cx="473.4" cy="100.6" r="1.35" fill="#1020ee"/>
<circle cx="464.4" cy="101.9" r="1.35" fill="#1020ee"/>
<circle cx="468.8" cy="100.8" r="1.35" fill="#1020ee"/>
<line x1="458.30" y1="94.90" x2="479.30" y2="94.90" stroke="#505050" stroke-width="0.85"/>
<line x1="463.55" y1="89.50" x2="474.05" y2="89.50" stroke="#404040" stroke-width="0.85"/>
<line x1="463.55" y1="99.80" x2="474.05" y2="99.80" stroke="#404040" stroke-width="0.85"/>
<line x1="468.80" y1="89.50" x2="468.80" y2="99.80" stroke="#1a1a1a" stroke-width="0.95"/>
<circle cx="500.41" cy="74.85" r="1.35" fill="#f51010"/>
<circle cx="495.37" cy="77.08" r="1.35" fill="#f51010"/>
<circle cx="497.12" cy="76.58" r="1.35" fill="#f51010"/>
<circle cx="499.24" cy="76.58" r="1.35" fill="#f51010"/>
<circle cx="501.86" cy="76.50" r="1.35" fill="#f51010"/>
<circle cx="503.85" cy="76.57" r="1.35" fill="#f51010"/>
<circle cx="505.81" cy="76.75" r="1.35" fill="#f51010"/>
<circle cx="492.27" cy="78.89" r="1.35" fill="#f51010"/>
<circle cx="493.76" cy="78.62" r="1.35" fill="#f51010"/>
<circle cx="496.02" cy="79.10" r="1.35" fill="#f51010"/>
<circle cx="498.70" cy="79.04" r="1.35" fill="#f51010"/>
<circle cx="500.86" cy="79.00" r="1.35" fill="#f51010"/>
<circle cx="503.11" cy="79.04" r="1.35" fill="#f51010"/>
<circle cx="504.71" cy="79.08" r="1.35" fill="#f51010"/>
<circle cx="507.04" cy="79.00" r="1.35" fill="#f51010"/>
<circle cx="509.25" cy="78.74" r="1.35" fill="#f51010"/>
<circle cx="490.82" cy="80.74" r="1.35" fill="#f51010"/>
<circle cx="492.93" cy="80.49" r="1.35" fill="#f51010"/>
<circle cx="495.48" cy="81.04" r="1.35" fill="#f51010"/>
<circle cx="497.76" cy="80.95" r="1.35" fill="#f51010"/>
<circle cx="499.57" cy="81.00" r="1.35" fill="#f51010"/>
<circle cx="501.38" cy="80.94" r="1.35" fill="#f51010"/>
<circle cx="503.78" cy="80.54" r="1.35" fill="#f51010"/>
<circle cx="505.74" cy="80.82" r="1.35" fill="#f51010"/>
<circle cx="507.93" cy="80.77" r="1.35" fill="#f51010"/>
<circle cx="510.36" cy="80.72" r="1.35" fill="#f51010"/>
<circle cx="490.63" cy="82.79" r="1.35" fill="#f51010"/>
<circle cx="492.86" cy="82.59" r="1.35" fill="#f51010"/>
<circle cx="494.98" cy="82.69" r="1.35" fill="#f51010"/>
<circle cx="497.03" cy="82.92" r="1.35" fill="#f51010"/>
<circle cx="499.89" cy="82.71" r="1.35" fill="#f51010"/>
<circle cx="501.85" cy="83.15" r="1.35" fill="#f51010"/>
<circle cx="503.46" cy="82.51" r="1.35" fill="#f51010"/>
<circle cx="506.22" cy="83.07" r="1.35" fill="#f51010"/>
<circle cx="508.24" cy="82.53" r="1.35" fill="#f51010"/>
<circle cx="510.21" cy="83.09" r="1.35" fill="#f51010"/>
<circle cx="491.23" cy="85.04" r="1.35" fill="#f51010"/>
<circle cx="492.84" cy="85.08" r="1.35" fill="#f51010"/>
<circle cx="495.12" cy="84.97" r="1.35" fill="#f51010"/>
<circle cx="497.08" cy="85.18" r="1.35" fill="#f51010"/>
<circle cx="499.61" cy="84.98" r="1.35" fill="#f51010"/>
<circle cx="501.44" cy="84.89" r="1.35" fill="#f51010"/>
<circle cx="503.89" cy="84.87" r="1.35" fill="#f51010"/>
<circle cx="505.86" cy="84.98" r="1.35" fill="#f51010"/>
<circle cx="508.00" cy="84.64" r="1.35" fill="#f51010"/>
<circle cx="510.01" cy="84.95" r="1.35" fill="#f51010"/>
<circle cx="491.69" cy="86.58" r="1.35" fill="#f51010"/>
<circle cx="493.81" cy="86.91" r="1.35" fill="#f51010"/>
<circle cx="496.34" cy="86.83" r="1.35" fill="#f51010"/>
<circle cx="498.08" cy="86.75" r="1.35" fill="#f51010"/>
<circle cx="500.47" cy="86.47" r="1.35" fill="#f51010"/>
<circle cx="502.35" cy="87.20" r="1.35" fill="#f51010"/>
<circle cx="504.60" cy="86.64" r="1.35" fill="#f51010"/>
<circle cx="506.87" cy="86.88" r="1.35" fill="#f51010"/>
<circle cx="508.86" cy="86.78" r="1.35" fill="#f51010"/>
<circle cx="491.89" cy="89.07" r="1.35" fill="#f51010"/>
<circle cx="493.75" cy="88.67" r="1.35" fill="#f51010"/>
<circle cx="496.30" cy="89.18" r="1.35" fill="#f51010"/>
<circle cx="498.46" cy="88.78" r="1.35" fill="#f51010"/>
<circle cx="500.74" cy="88.64" r="1.35" fill="#f51010"/>
<circle cx="502.38" cy="88.80" r="1.35" fill="#f51010"/>
<circle cx="505.23" cy="88.99" r="1.35" fill="#f51010"/>
<circle cx="506.86" cy="88.95" r="1.35" fill="#f51010"/>
<circle cx="509.48" cy="88.61" r="1.35" fill="#f51010"/>
<circle cx="493.15" cy="90.68" r="1.35" fill="#f51010"/>
<circle cx="495.02" cy="90.63" r="1.35" fill="#f51010"/>
<circle cx="497.14" cy="90.68" r="1.35" fill="#f51010"/>
<circle cx="499.16" cy="90.72" r="1.35" fill="#f51010"/>
<circle cx="501.34" cy="91.01" r="1.35" fill="#f51010"/>
<circle cx="503.90" cy="90.40" r="1.35" fill="#f51010"/>
<circle cx="506.19" cy="90.55" r="1.35" fill="#f51010"/>
<circle cx="508.11" cy="90.84" r="1.35" fill="#f51010"/>
<circle cx="492.94" cy="92.63" r="1.35" fill="#f51010"/>
<circle cx="495.17" cy="92.51" r="1.35" fill="#f51010"/>
<circle cx="497.67" cy="92.49" r="1.35" fill="#f51010"/>
<circle cx="499.78" cy="92.57" r="1.35" fill="#f51010"/>
<circle cx="501.52" cy="92.71" r="1.35" fill="#f51010"/>
<circle cx="503.45" cy="92.50" r="1.35" fill="#f51010"/>
<circle cx="505.86" cy="92.75" r="1.35" fill="#f51010"/>
<circle cx="508.43" cy="93.19" r="1.35" fill="#f51010"/>
<circle cx="492.71" cy="94.83" r="1.35" fill="#f51010"/>
<circle cx="494.93" cy="95.04" r="1.35" fill="#f51010"/>
<circle cx="497.23" cy="95.11" r="1.35" fill="#f51010"/>
<circle cx="499.56" cy="94.50" r="1.35" fill="#f51010"/>
<circle cx="501.28" cy="94.60" r="1.35" fill="#f51010"/>
<circle cx="504.12" cy="94.52" r="1.35" fill="#f51010"/>
<circle cx="505.96" cy="94.70" r="1.35" fill="#f51010"/>
<circle cx="508.00" cy="95.04" r="1.35" fill="#f51010"/>
<circle cx="495.00" cy="96.97" r="1.35" fill="#f51010"/>
<circle cx="497.51" cy="97.15" r="1.35" fill="#f51010"/>
<circle cx="499.54" cy="97.14" r="1.35" fill="#f51010"/>
<circle cx="501.63" cy="96.86" r="1.35" fill="#f51010"/>
<circle cx="503.92" cy="97.07" r="1.35" fill="#f51010"/>
<circle cx="506.29" cy="96.49" r="1.35" fill="#f51010"/>
<circle cx="497.08" cy="98.83" r="1.35" fill="#f51010"/>
<circle cx="499.77" cy="98.83" r="1.35" fill="#f51010"/>
<circle cx="501.51" cy="99.17" r="1.35" fill="#f51010"/>
<circle cx="503.66" cy="98.47" r="1.35" fill="#f51010"/>
<circle cx="498.09" cy="100.42" r="1.35" fill="#f51010"/>
<circle cx="500.78" cy="100.49" r="1.35" fill="#f51010"/>
<circle cx="502.92" cy="101.09" r="1.35" fill="#f51010"/>
<circle cx="498.85" cy="103.05" r="1.35" fill="#f51010"/>
<circle cx="500.54" cy="102.90" r="1.35" fill="#f51010"/>
<circle cx="503.02" cy="102.97" r="1.35" fill="#f51010"/>
<circle cx="499.36" cy="105.01" r="1.35" fill="#f51010"/>
<circle cx="501.36" cy="104.65" r="1.35" fill="#f51010"/>
<circle cx="498.85" cy="106.78" r="1.35" fill="#f51010"/>
<circle cx="500.41" cy="107.03" r="1.35" fill="#f51010"/>
<circle cx="502.71" cy="106.40" r="1.35" fill="#f51010"/>
<circle cx="499.15" cy="108.61" r="1.35" fill="#f51010"/>
<circle cx="501.54" cy="109.15" r="1.35" fill="#f51010"/>
<circle cx="499.32" cy="111.08" r="1.35" fill="#f51010"/>
<circle cx="501.96" cy="110.73" r="1.35" fill="#f51010"/>
<circle cx="499.92" cy="113.01" r="1.35" fill="#f51010"/>
<circle cx="501.66" cy="112.61" r="1.35" fill="#f51010"/>
<circle cx="500.57" cy="114.82" r="1.35" fill="#f51010"/>
<line x1="489.10" y1="89.50" x2="512.10" y2="89.50" stroke="#505050" stroke-width="0.85"/>
<line x1="495.60" y1="80.80" x2="505.60" y2="80.80" stroke="#404040" stroke-width="0.85"/>
<line x1="495.60" y1="98.60" x2="505.60" y2="98.60" stroke="#404040" stroke-width="0.85"/>
<line x1="500.60" y1="80.80" x2="500.60" y2="98.60" stroke="#1a1a1a" stroke-width="0.95"/>
<text x="533.31" y="11.80" font-family="'Liberation Sans', Arial, sans-serif" font-weight="bold" font-size="15.36" textLength="10.15" lengthAdjust="spacingAndGlyphs" fill="#000" stroke="#000" stroke-width="0.25">E</text>
<text x="598.61" y="12.80" font-family="'Liberation Sans', Arial, sans-serif" font-weight="bold" font-size="9.28" textLength="54.00" lengthAdjust="spacingAndGlyphs" fill="#1a1a1a" stroke="#1a1a1a" stroke-width="0.25">TCGA(STAD)</text>
<text x="610.59" y="25.80" font-family="'Liberation Sans', Arial, sans-serif" font-weight="bold" font-size="7.14" textLength="28.45" lengthAdjust="spacingAndGlyphs" fill="#1a1a1a" stroke="#1a1a1a" stroke-width="0.1"><tspan font-style="italic">P</tspan> &lt; <tspan font-weight="normal" font-family="'Liberation Serif', serif">1E-12</tspan></text>
<line x1="572.00" y1="31.60" x2="572.00" y2="157.00" stroke="#707070" stroke-width="1.1"/>
<line x1="570.00" y1="157.00" x2="683.30" y2="157.00" stroke="#707070" stroke-width="1.1"/>
<line x1="568.70" y1="157.00" x2="572.00" y2="157.00" stroke="#707070" stroke-width="1.0"/>
<text x="559.41" y="159.31" font-family="'Liberation Sans', Arial, sans-serif" font-weight="bold" font-size="9.01" textLength="5.01" lengthAdjust="spacingAndGlyphs" fill="#1a1a1a" stroke="#1a1a1a" stroke-width="0.25">0</text>
<line x1="568.70" y1="136.10" x2="572.00" y2="136.10" stroke="#707070" stroke-width="1.0"/>
<text x="554.32" y="138.41" font-family="'Liberation Sans', Arial, sans-serif" font-weight="bold" font-size="9.01" textLength="10.03" lengthAdjust="spacingAndGlyphs" fill="#1a1a1a" stroke="#1a1a1a" stroke-width="0.25">25</text>
<line x1="568.70" y1="115.20" x2="572.00" y2="115.20" stroke="#707070" stroke-width="1.0"/>
<text x="554.41" y="117.51" font-family="'Liberation Sans', Arial, sans-serif" font-weight="bold" font-size="9.01" textLength="10.03" lengthAdjust="spacingAndGlyphs" fill="#1a1a1a" stroke="#1a1a1a" stroke-width="0.25">50</text>
<line x1="568.70" y1="94.30" x2="572.00" y2="94.30" stroke="#707070" stroke-width="1.0"/>
<text x="554.18" y="96.61" font-family="'Liberation Sans', Arial, sans-serif" font-weight="bold" font-size="9.14" textLength="10.17" lengthAdjust="spacingAndGlyphs" fill="#1a1a1a" stroke="#1a1a1a" stroke-width="0.25">75</text>
<line x1="568.70" y1="73.40" x2="572.00" y2="73.40" stroke="#707070" stroke-width="1.0"/>
<text x="549.41" y="75.71" font-family="'Liberation Sans', Arial, sans-serif" font-weight="bold" font-size="9.01" textLength="15.04" lengthAdjust="spacingAndGlyphs" fill="#1a1a1a" stroke="#1a1a1a" stroke-width="0.25">100</text>
<line x1="568.70" y1="52.50" x2="572.00" y2="52.50" stroke="#707070" stroke-width="1.0"/>
<text x="549.32" y="54.81" font-family="'Liberation Sans', Arial, sans-serif" font-weight="bold" font-size="9.01" textLength="15.04" lengthAdjust="spacingAndGlyphs" fill="#1a1a1a" stroke="#1a1a1a" stroke-width="0.25">125</text>
<line x1="568.70" y1="31.60" x2="572.00" y2="31.60" stroke="#707070" stroke-width="1.0"/>
<text x="549.41" y="33.91" font-family="'Liberation Sans', Arial, sans-serif" font-weight="bold" font-size="9.01" textLength="15.04" lengthAdjust="spacingAndGlyphs" fill="#1a1a1a" stroke="#1a1a1a" stroke-width="0.25">150</text>
<text x="544.66" y="128.79" transform="rotate(-90 544.66 128.79)" font-family="'Liberation Sans', Arial, sans-serif" font-weight="bold" font-size="8.78" fill="#1a1a1a" stroke="#1a1a1a" stroke-width="0.25">Transcript per million</text>
<polyline points="599.80,123.30 599.80,33.70 655.60,33.70 655.60,39.70" fill="none" stroke="#777" stroke-width="0.9"/>
<line x1="600.00" y1="129.40" x2="600.00" y2="141.20" stroke="#666" stroke-width="0.9"/>
<line x1="597.50" y1="129.40" x2="602.50" y2="129.40" stroke="#333" stroke-width="1.0"/>
<line x1="600.00" y1="154.40" x2="600.00" y2="157.00" stroke="#666" stroke-width="0.9"/>
<rect x="589" y="141.2" width="22.3" height="13.2" fill="#4e63e4" stroke="#2a2a55" stroke-width="0.8"/>
<line x1="589.00" y1="145.40" x2="611.30" y2="145.40" stroke="#141430" stroke-width="1.1"/>
<line x1="655.50" y1="43.30" x2="655.50" y2="101.50" stroke="#666" stroke-width="0.9"/>
<line x1="653.80" y1="43.30" x2="657.40" y2="43.30" stroke="#333" stroke-width="1.0"/>
<line x1="655.50" y1="137.90" x2="655.50" y2="157.00" stroke="#666" stroke-width="0.9"/>
<rect x="644.5" y="101.5" width="22.3" height="36.4" fill="#f03a12" stroke="#5a1a10" stroke-width="0.8"/>
<line x1="644.50" y1="123.60" x2="666.80" y2="123.60" stroke="#4a1208" stroke-width="1.0"/>
<text x="585.36" y="169.80" font-family="'Liberation Sans', Arial, sans-serif" font-weight="bold" font-size="8.26" textLength="28.68" lengthAdjust="spacingAndGlyphs" fill="#1a1a1a" stroke="#1a1a1a" stroke-width="0.25">Normal</text>
<text x="587.42" y="177.75" font-family="'Liberation Sans', Arial, sans-serif" font-weight="bold" font-size="8.19" textLength="26.00" lengthAdjust="spacingAndGlyphs" fill="#1a1a1a" stroke="#1a1a1a" stroke-width="0.25">(N=34)</text>
<text x="628.78" y="169.90" font-family="'Liberation Sans', Arial, sans-serif" font-weight="bold" font-size="8.12" textLength="54.95" lengthAdjust="spacingAndGlyphs" fill="#1a1a1a" stroke="#1a1a1a" stroke-width="0.25">Primary tumor</text>
<text x="640.72" y="179.70" font-family="'Liberation Sans', Arial, sans-serif" font-weight="bold" font-size="7.97" textLength="30.46" lengthAdjust="spacingAndGlyphs" fill="#1a1a1a" stroke="#1a1a1a" stroke-width="0.25">(N=415)</text>
<text x="19.43" y="191.30" font-family="'Liberation Sans', Arial, sans-serif" font-weight="bold" font-size="14.93" textLength="9.10" lengthAdjust="spacingAndGlyphs" fill="#000" stroke="#000" stroke-width="0.25">F</text>
<text x="115.63" y="196.60" font-family="'Liberation Sans', Arial, sans-serif" font-weight="bold" font-size="9.52" textLength="37.20" lengthAdjust="spacingAndGlyphs" fill="#1a1a1a" stroke="#1a1a1a" stroke-width="0.25">Kindlin-1</text>
<rect x="55.4" y="201.4" width="155.1" height="127.99999999999997" fill="none" stroke="#a8a8a8" stroke-width="0.9"/>
<line x1="52.40" y1="324.60" x2="55.40" y2="324.60" stroke="#777" stroke-width="0.8"/>
<text x="48.44" y="330.18" transform="rotate(-90 48.44 330.18)" font-family="'DejaVu Sans', sans-serif" font-weight="normal" font-size="7.02" textLength="11.16" lengthAdjust="spacingAndGlyphs" fill="#222" stroke="#222" stroke-width="0.1">0.0</text>
<line x1="52.40" y1="300.94" x2="55.40" y2="300.94" stroke="#777" stroke-width="0.8"/>
<text x="48.44" y="306.42" transform="rotate(-90 48.44 306.42)" font-family="'DejaVu Sans', sans-serif" font-weight="normal" font-size="7.02" textLength="11.16" lengthAdjust="spacingAndGlyphs" fill="#222" stroke="#222" stroke-width="0.1">0.2</text>
<line x1="52.40" y1="277.28" x2="55.40" y2="277.28" stroke="#777" stroke-width="0.8"/>
<text x="48.44" y="282.91" transform="rotate(-90 48.44 282.91)" font-family="'DejaVu Sans', sans-serif" font-weight="normal" font-size="7.02" textLength="11.16" lengthAdjust="spacingAndGlyphs" fill="#222" stroke="#222" stroke-width="0.1">0.4</text>
<line x1="52.40" y1="253.62" x2="55.40" y2="253.62" stroke="#777" stroke-width="0.8"/>
<text x="48.44" y="259.22" transform="rotate(-90 48.44 259.22)" font-family="'DejaVu Sans', sans-serif" font-weight="normal" font-size="7.02" textLength="11.16" lengthAdjust="spacingAndGlyphs" fill="#222" stroke="#222" stroke-width="0.1">0.6</text>
<line x1="52.40" y1="229.96" x2="55.40" y2="229.96" stroke="#777" stroke-width="0.8"/>
<text x="48.44" y="235.54" transform="rotate(-90 48.44 235.54)" font-family="'DejaVu Sans', sans-serif" font-weight="normal" font-size="7.02" textLength="11.16" lengthAdjust="spacingAndGlyphs" fill="#222" stroke="#222" stroke-width="0.1">0.8</text>
<line x1="52.40" y1="206.30" x2="55.40" y2="206.30" stroke="#777" stroke-width="0.8"/>
<text x="48.44" y="212.02" transform="rotate(-90 48.44 212.02)" font-family="'DejaVu Sans', sans-serif" font-weight="normal" font-size="7.02" textLength="11.16" lengthAdjust="spacingAndGlyphs" fill="#222" stroke="#222" stroke-width="0.1">1.0</text>
<line x1="61.30" y1="329.40" x2="61.30" y2="332.30" stroke="#777" stroke-width="0.8"/>
<text x="58.99" y="340.14" font-family="'DejaVu Sans', sans-serif" font-weight="normal" font-size="7.28" textLength="4.63" lengthAdjust="spacingAndGlyphs" fill="#222" stroke="#222" stroke-width="0.1">0</text>
<line x1="108.27" y1="329.40" x2="108.27" y2="332.30" stroke="#777" stroke-width="0.8"/>
<text x="103.60" y="340.14" font-family="'DejaVu Sans', sans-serif" font-weight="normal" font-size="7.28" textLength="9.27" lengthAdjust="spacingAndGlyphs" fill="#222" stroke="#222" stroke-width="0.1">50</text>
<line x1="155.23" y1="329.40" x2="155.23" y2="332.30" stroke="#777" stroke-width="0.8"/>
<text x="148.13" y="340.14" font-family="'DejaVu Sans', sans-serif" font-weight="normal" font-size="7.28" textLength="13.90" lengthAdjust="spacingAndGlyphs" fill="#222" stroke="#222" stroke-width="0.1">100</text>
<line x1="202.19" y1="329.40" x2="202.19" y2="332.30" stroke="#777" stroke-width="0.8"/>
<text x="195.09" y="340.14" font-family="'DejaVu Sans', sans-serif" font-weight="normal" font-size="7.28" textLength="13.90" lengthAdjust="spacingAndGlyphs" fill="#222" stroke="#222" stroke-width="0.1">150</text>
<text x="106.54" y="351.66" font-family="'DejaVu Sans', sans-serif" font-weight="normal" font-size="7.98" textLength="54.01" lengthAdjust="spacingAndGlyphs" fill="#1e1e1e" stroke="#1e1e1e" stroke-width="0.1">Time (months)</text>
<text x="27.31" y="299.35" transform="rotate(-90 27.31 299.35)" font-family="'Liberation Sans', Arial, sans-serif" font-weight="bold" font-size="8.86" fill="#111" stroke="#111" stroke-width="0.25">Overall Survival</text>
<text x="38.16" y="300.57" transform="rotate(-90 38.16 300.57)" font-family="'Liberation Sans', Arial, sans-serif" font-weight="bold" font-size="8.78" fill="#111" stroke="#111" stroke-width="0.25">Probability (OS)</text>
<text x="127.72" y="213.00" font-family="'Liberation Sans', Arial, sans-serif" font-weight="bold" font-size="7.17" textLength="77.64" lengthAdjust="spacingAndGlyphs" fill="#222" stroke="#222" stroke-width="0.05">HR = 1.52 (1.22 – 1.89)</text>
<text x="173.43" y="222.52" font-family="'Liberation Sans', Arial, sans-serif" font-weight="bold" font-size="7.61" textLength="31.16" lengthAdjust="spacingAndGlyphs" fill="#222" stroke="#222" stroke-width="0.05"><tspan font-style="italic">P</tspan> &lt; 0.001</text>
<text x="58.39" y="305.35" font-family="'DejaVu Sans', sans-serif" font-weight="normal" font-size="6.91" textLength="40.43" lengthAdjust="spacingAndGlyphs" fill="#1e1e1e" stroke="#1e1e1e" stroke-width="0.12">Expression</text>
<line x1="62.10" y1="313.60" x2="75.70" y2="313.60" stroke="#999" stroke-width="0.9"/>
<line x1="62.10" y1="321.40" x2="75.70" y2="321.40" stroke="#ff6a6a" stroke-width="0.9"/>
<text x="81.59" y="316.09" font-family="'DejaVu Sans', sans-serif" font-weight="normal" font-size="7.61" textLength="13.51" lengthAdjust="spacingAndGlyphs" fill="#1e1e1e" stroke="#1e1e1e" stroke-width="0.12">low</text>
<text x="81.59" y="324.16" font-family="'DejaVu Sans', sans-serif" font-weight="normal" font-size="7.32" textLength="17.29" lengthAdjust="spacingAndGlyphs" fill="#1e1e1e" stroke="#1e1e1e" stroke-width="0.12">high</text>
<text x="55.50" y="358.10" font-family="'DejaVu Sans', sans-serif" font-size="5.0" text-anchor="start" fill="#222" stroke="#222" stroke-width="0.1">Number at risk</text>
<text x="47.40" y="363.90" font-family="'DejaVu Sans', sans-serif" font-size="5.0" text-anchor="end" fill="#222" stroke="#222" stroke-width="0.1">low</text>
<text x="47.40" y="369.70" font-family="'DejaVu Sans', sans-serif" font-size="5.0" text-anchor="end" fill="#ff2020" stroke="#ff2020" stroke-width="0.1">high</text>
<text x="61.30" y="363.90" font-family="'DejaVu Sans', sans-serif" font-size="5.0" text-anchor="middle" fill="#222" stroke="#222" stroke-width="0.1">303</text>
<text x="61.30" y="369.70" font-family="'DejaVu Sans', sans-serif" font-size="5.0" text-anchor="middle" fill="#ff2020" stroke="#ff2020" stroke-width="0.1">328</text>
<text x="108.27" y="363.90" font-family="'DejaVu Sans', sans-serif" font-size="5.0" text-anchor="middle" fill="#222" stroke="#222" stroke-width="0.1">154</text>
<text x="108.27" y="369.70" font-family="'DejaVu Sans', sans-serif" font-size="5.0" text-anchor="middle" fill="#ff2020" stroke="#ff2020" stroke-width="0.1">111</text>
<text x="155.23" y="363.90" font-family="'DejaVu Sans', sans-serif" font-size="5.0" text-anchor="middle" fill="#222" stroke="#222" stroke-width="0.1">15</text>
<text x="155.23" y="369.70" font-family="'DejaVu Sans', sans-serif" font-size="5.0" text-anchor="middle" fill="#ff2020" stroke="#ff2020" stroke-width="0.1">33</text>
<text x="202.19" y="363.90" font-family="'DejaVu Sans', sans-serif" font-size="5.0" text-anchor="middle" fill="#222" stroke="#222" stroke-width="0.1">0</text>
<text x="202.19" y="369.70" font-family="'DejaVu Sans', sans-serif" font-size="5.0" text-anchor="middle" fill="#ff2020" stroke="#ff2020" stroke-width="0.1">1</text>
<polyline points="61.20,206.00 62.63,206.00 62.63,206.50 64.07,206.50 64.07,207.00 65.50,207.00 65.50,207.50 66.11,207.50 66.11,208.43 66.73,208.43 66.73,209.36 67.34,209.36 67.34,210.29 67.96,210.29 67.96,211.21 68.57,211.21 68.57,212.14 69.19,212.14 69.19,213.07 69.80,213.07 69.80,214.00 70.26,214.00 70.26,214.91 70.71,214.91 70.71,215.83 71.17,215.83 71.17,216.74 71.63,216.74 71.63,217.66 72.09,217.66 72.09,218.57 72.54,218.57 72.54,219.49 73.00,219.49 73.00,220.40 73.49,220.40 73.49,221.36 73.98,221.36 73.98,222.31 74.47,222.31 74.47,223.27 74.96,223.27 74.96,224.22 75.44,224.22 75.44,225.18 75.93,225.18 75.93,226.13 76.42,226.13 76.42,227.09 76.91,227.09 76.91,228.04 77.40,228.04 77.40,229.00 77.94,229.00 77.94,229.95 78.48,229.95 78.48,230.90 79.01,230.90 79.01,231.85 79.55,231.85 79.55,232.80 80.09,232.80 80.09,233.75 80.62,233.75 80.62,234.70 81.16,234.70 81.16,235.65 81.70,235.65 81.70,236.60 82.42,236.60 82.42,237.50 83.13,237.50 83.13,238.40 83.85,238.40 83.85,239.30 84.57,239.30 84.57,240.20 85.28,240.20 85.28,241.10 86.00,241.10 86.00,242.00 86.86,242.00 86.86,243.06 87.72,243.06 87.72,244.12 88.58,244.12 88.58,245.18 89.44,245.18 89.44,246.24 90.30,246.24 90.30,247.30 91.38,247.30 91.38,248.38 92.45,248.38 92.45,249.45 93.52,249.45 93.52,250.53 94.60,250.53 94.60,251.60 96.40,251.60 96.40,252.67 98.20,252.67 98.20,253.73 100.00,253.73 100.00,254.80 101.40,254.80 101.40,255.53 102.80,255.53 102.80,256.27 104.20,256.27 104.20,257.00 105.80,257.00 105.80,257.33 107.40,257.33 107.40,257.67 109.00,257.67 109.00,258.00 111.05,258.00 111.05,258.70 113.10,258.70 113.10,259.40 114.43,259.40 114.43,260.30 115.77,260.30 115.77,261.20 117.10,261.20 117.10,262.10 118.72,262.10 118.72,262.16 120.34,262.16 120.34,262.22 121.96,262.22 121.96,262.28 123.58,262.28 123.58,262.34 125.20,262.34 125.20,262.40 127.20,262.40 127.20,262.90 129.20,262.90 129.20,263.40 133.20,263.40 134.57,263.40 134.57,264.53 135.93,264.53 135.93,265.67 137.30,265.67 137.30,266.80 141.30,266.80 143.30,266.80 143.30,267.15 145.30,267.15 145.30,267.50 147.10,267.50 147.10,267.70 148.90,267.70 148.90,267.90 150.70,267.90 150.70,268.10 156.30,268.10 156.30,272.70 168.40,272.70 168.40,281.50 187.80,281.50" fill="none" stroke="#303030" stroke-width="0.65"/>
<path d="M159.35,272.70h3.1M160.90,271.00v3.4M163.65,272.70h3.1M165.20,271.00v3.4M169.35,281.50h3.1M170.90,279.80v3.4M176.35,281.50h3.1M177.90,279.80v3.4M186.25,281.50h3.1M187.80,279.80v3.4M96.86,253.73h3.1M98.41,252.03v3.4M65.78,209.36h3.1M67.33,207.66v3.4M61.35,206.50h3.1M62.90,204.80v3.4M98.40,253.73h3.1M99.95,252.03v3.4M67.45,212.14h3.1M69.00,210.44v3.4M65.03,208.43h3.1M66.58,206.73v3.4M85.20,242.00h3.1M86.75,240.30v3.4M73.58,224.22h3.1M75.13,222.52v3.4M94.25,251.60h3.1M95.80,249.90v3.4M69.26,215.83h3.1M70.81,214.13v3.4M96.91,253.73h3.1M98.46,252.03v3.4M72.59,222.31h3.1M74.14,220.61v3.4M83.29,240.20h3.1M84.84,238.50v3.4M95.87,252.67h3.1M97.42,250.97v3.4M136.82,266.80h3.1M138.37,265.10v3.4M150.19,268.10h3.1M151.74,266.40v3.4M138.10,266.80h3.1M139.65,265.10v3.4M101.16,255.53h3.1M102.71,253.83v3.4M147.81,267.90h3.1M149.36,266.20v3.4M131.47,263.40h3.1M133.02,261.70v3.4M115.85,262.10h3.1M117.40,260.40v3.4M109.10,258.00h3.1M110.65,256.30v3.4M146.04,267.70h3.1M147.59,266.00v3.4M131.09,263.40h3.1M132.64,261.70v3.4M150.98,268.10h3.1M152.53,266.40v3.4M141.79,267.15h3.1M143.34,265.45v3.4M152.28,268.10h3.1M153.83,266.40v3.4M130.16,263.40h3.1M131.71,261.70v3.4M137.56,266.80h3.1M139.11,265.10v3.4M132.74,263.40h3.1M134.29,261.70v3.4M112.92,260.30h3.1M114.47,258.60v3.4M152.03,268.10h3.1M153.58,266.40v3.4M115.95,262.10h3.1M117.50,260.40v3.4M142.19,267.15h3.1M143.74,265.45v3.4M151.91,268.10h3.1M153.46,266.40v3.4M134.90,265.67h3.1M136.45,263.97v3.4M106.41,257.67h3.1M107.96,255.97v3.4M144.66,267.50h3.1M146.21,265.80v3.4M135.83,266.80h3.1M137.38,265.10v3.4M108.81,258.00h3.1M110.36,256.30v3.4M101.20,255.53h3.1M102.75,253.83v3.4M128.23,263.40h3.1M129.78,261.70v3.4M100.26,255.53h3.1M101.81,253.83v3.4M150.25,268.10h3.1M151.80,266.40v3.4" stroke="#202020" stroke-width="0.7" fill="none"/>
<polyline points="61.20,206.00 61.75,206.00 61.75,206.97 62.30,206.97 62.30,207.93 62.85,207.93 62.85,208.90 63.40,208.90 63.40,209.87 63.95,209.87 63.95,210.83 64.50,210.83 64.50,211.80 64.76,211.80 64.76,212.75 65.03,212.75 65.03,213.70 65.29,213.70 65.29,214.65 65.55,214.65 65.55,215.60 65.81,215.60 65.81,216.55 66.07,216.55 66.07,217.50 66.34,217.50 66.34,218.45 66.60,218.45 66.60,219.40 66.96,219.40 66.96,220.36 67.31,220.36 67.31,221.31 67.67,221.31 67.67,222.27 68.02,222.27 68.02,223.22 68.38,223.22 68.38,224.18 68.73,224.18 68.73,225.13 69.09,225.13 69.09,226.09 69.44,226.09 69.44,227.04 69.80,227.04 69.80,228.00 70.16,228.00 70.16,228.96 70.51,228.96 70.51,229.91 70.87,229.91 70.87,230.87 71.22,230.87 71.22,231.82 71.58,231.82 71.58,232.78 71.93,232.78 71.93,233.73 72.29,233.73 72.29,234.69 72.64,234.69 72.64,235.64 73.00,235.64 73.00,236.60 73.37,236.60 73.37,237.56 73.73,237.56 73.73,238.51 74.10,238.51 74.10,239.47 74.47,239.47 74.47,240.42 74.83,240.42 74.83,241.38 75.20,241.38 75.20,242.33 75.57,242.33 75.57,243.29 75.93,243.29 75.93,244.24 76.30,244.24 76.30,245.20 76.94,245.20 76.94,246.26 77.58,246.26 77.58,247.32 78.22,247.32 78.22,248.38 78.86,248.38 78.86,249.44 79.50,249.44 79.50,250.50 80.22,250.50 80.22,251.40 80.93,251.40 80.93,252.30 81.65,252.30 81.65,253.20 82.37,253.20 82.37,254.10 83.08,254.10 83.08,255.00 83.80,255.00 83.80,255.90 84.41,255.90 84.41,256.83 85.03,256.83 85.03,257.76 85.64,257.76 85.64,258.69 86.26,258.69 86.26,259.61 86.87,259.61 86.87,260.54 87.49,260.54 87.49,261.47 88.10,261.47 88.10,262.40 89.45,262.40 89.45,263.47 90.80,263.47 90.80,264.55 92.15,264.55 92.15,265.62 93.50,265.62 93.50,266.70 95.30,266.70 95.30,267.77 97.10,267.77 97.10,268.83 98.90,268.83 98.90,269.90 100.67,269.90 100.67,270.83 102.43,270.83 102.43,271.77 104.20,271.77 104.20,272.70 105.80,272.70 105.80,273.43 107.40,273.43 107.40,274.17 109.00,274.17 109.00,274.90 111.05,274.90 111.05,275.10 113.10,275.10 113.10,275.30 114.87,275.30 114.87,275.60 116.63,275.60 116.63,275.90 118.40,275.90 118.40,276.20 120.45,276.20 120.45,276.90 122.50,276.90 122.50,277.60 124.50,277.60 124.50,277.90 126.50,277.90 126.50,278.20 128.30,278.20 128.30,278.87 130.10,278.87 130.10,279.53 131.90,279.53 131.90,280.20 133.70,280.20 133.70,280.53 135.50,280.53 135.50,280.87 137.30,280.87 137.30,281.20 139.30,281.20 139.30,281.60 141.30,281.60 141.30,282.00 143.30,282.00 143.30,282.95 145.30,282.95 145.30,283.90 147.35,283.90 147.35,284.30 149.40,284.30 149.40,284.70 151.40,284.70 151.40,285.15 153.40,285.15 153.40,285.60 155.00,285.60 155.00,285.78 156.60,285.78 156.60,285.95 158.20,285.95 158.20,286.12 159.80,286.12 159.80,286.30 162.50,286.30 162.50,287.70 164.15,287.70 164.15,288.10 165.80,288.10 165.80,288.50 177.60,288.50 177.60,293.30 205.50,293.30" fill="none" stroke="#ff2a2a" stroke-width="0.65"/>
<path d="M164.25,288.50h3.1M165.80,286.80v3.4M170.15,288.50h3.1M171.70,286.80v3.4M171.75,288.50h3.1M173.30,286.80v3.4M174.95,288.50h3.1M176.50,286.80v3.4M176.85,293.30h3.1M178.40,291.60v3.4M181.95,293.30h3.1M183.50,291.60v3.4M185.75,293.30h3.1M187.30,291.60v3.4M194.35,293.30h3.1M195.90,291.60v3.4M196.45,293.30h3.1M198.00,291.60v3.4M199.65,293.30h3.1M201.20,291.60v3.4M203.45,293.30h3.1M205.00,291.60v3.4M77.60,249.44h3.1M79.15,247.74v3.4M132.19,280.53h3.1M133.74,278.83v3.4M126.49,278.20h3.1M128.04,276.50v3.4M110.28,275.10h3.1M111.83,273.40v3.4M82.92,256.83h3.1M84.47,255.13v3.4M142.88,282.95h3.1M144.43,281.25v3.4M144.47,283.90h3.1M146.02,282.20v3.4M113.75,275.60h3.1M115.30,273.90v3.4M112.98,275.30h3.1M114.53,273.60v3.4M85.00,259.61h3.1M86.55,257.91v3.4M60.78,207.93h3.1M62.33,206.23v3.4M99.04,269.90h3.1M100.59,268.20v3.4M121.33,277.60h3.1M122.88,275.90v3.4M67.65,226.09h3.1M69.20,224.39v3.4M143.00,282.95h3.1M144.55,281.25v3.4M84.60,258.69h3.1M86.15,256.99v3.4M84.65,258.69h3.1M86.20,256.99v3.4M64.85,218.45h3.1M66.40,216.75v3.4M164.20,288.10h3.1M165.75,286.40v3.4M137.27,281.20h3.1M138.82,279.50v3.4M151.45,285.15h3.1M153.00,283.45v3.4M124.50,277.90h3.1M126.05,276.20v3.4M63.99,214.65h3.1M65.54,212.95v3.4M94.66,267.77h3.1M96.21,266.07v3.4M112.20,275.30h3.1M113.75,273.60v3.4M72.49,238.51h3.1M74.04,236.81v3.4M159.45,286.30h3.1M161.00,284.60v3.4M98.77,269.90h3.1M100.32,268.20v3.4M76.55,247.32h3.1M78.10,245.62v3.4M145.47,283.90h3.1M147.02,282.20v3.4M73.44,241.38h3.1M74.99,239.68v3.4M156.96,286.12h3.1M158.51,284.43v3.4M107.58,274.90h3.1M109.13,273.20v3.4M117.86,276.20h3.1M119.41,274.50v3.4M96.11,268.83h3.1M97.66,267.13v3.4M110.86,275.10h3.1M112.41,273.40v3.4M79.89,252.30h3.1M81.44,250.60v3.4M64.31,216.55h3.1M65.86,214.85v3.4M150.50,285.15h3.1M152.05,283.45v3.4M84.88,259.61h3.1M86.43,257.91v3.4" stroke="#ff2a2a" stroke-width="0.7" fill="none"/>
<text x="245.16" y="191.15" font-family="'Liberation Sans', Arial, sans-serif" font-weight="bold" font-size="14.51" textLength="12.35" lengthAdjust="spacingAndGlyphs" fill="#000" stroke="#000" stroke-width="0.25">G</text>
<text x="337.34" y="196.80" font-family="'Liberation Sans', Arial, sans-serif" font-weight="bold" font-size="9.52" textLength="37.00" lengthAdjust="spacingAndGlyphs" fill="#1a1a1a" stroke="#1a1a1a" stroke-width="0.25">Kindlin-1</text>
<rect x="279.3" y="201.4" width="155.2" height="127.99999999999997" fill="none" stroke="#a8a8a8" stroke-width="0.9"/>
<line x1="276.30" y1="324.60" x2="279.30" y2="324.60" stroke="#777" stroke-width="0.8"/>
<text x="272.34" y="330.18" transform="rotate(-90 272.34 330.18)" font-family="'DejaVu Sans', sans-serif" font-weight="normal" font-size="7.02" textLength="11.16" lengthAdjust="spacingAndGlyphs" fill="#222" stroke="#222" stroke-width="0.1">0.0</text>
<line x1="276.30" y1="300.94" x2="279.30" y2="300.94" stroke="#777" stroke-width="0.8"/>
<text x="272.34" y="306.42" transform="rotate(-90 272.34 306.42)" font-family="'DejaVu Sans', sans-serif" font-weight="normal" font-size="7.02" textLength="11.16" lengthAdjust="spacingAndGlyphs" fill="#222" stroke="#222" stroke-width="0.1">0.2</text>
<line x1="276.30" y1="277.28" x2="279.30" y2="277.28" stroke="#777" stroke-width="0.8"/>
<text x="272.34" y="282.91" transform="rotate(-90 272.34 282.91)" font-family="'DejaVu Sans', sans-serif" font-weight="normal" font-size="7.02" textLength="11.16" lengthAdjust="spacingAndGlyphs" fill="#222" stroke="#222" stroke-width="0.1">0.4</text>
<line x1="276.30" y1="253.62" x2="279.30" y2="253.62" stroke="#777" stroke-width="0.8"/>
<text x="272.34" y="259.22" transform="rotate(-90 272.34 259.22)" font-family="'DejaVu Sans', sans-serif" font-weight="normal" font-size="7.02" textLength="11.16" lengthAdjust="spacingAndGlyphs" fill="#222" stroke="#222" stroke-width="0.1">0.6</text>
<line x1="276.30" y1="229.96" x2="279.30" y2="229.96" stroke="#777" stroke-width="0.8"/>
<text x="272.34" y="235.54" transform="rotate(-90 272.34 235.54)" font-family="'DejaVu Sans', sans-serif" font-weight="normal" font-size="7.02" textLength="11.16" lengthAdjust="spacingAndGlyphs" fill="#222" stroke="#222" stroke-width="0.1">0.8</text>
<line x1="276.30" y1="206.30" x2="279.30" y2="206.30" stroke="#777" stroke-width="0.8"/>
<text x="272.34" y="212.02" transform="rotate(-90 272.34 212.02)" font-family="'DejaVu Sans', sans-serif" font-weight="normal" font-size="7.02" textLength="11.16" lengthAdjust="spacingAndGlyphs" fill="#222" stroke="#222" stroke-width="0.1">1.0</text>
<line x1="284.80" y1="329.40" x2="284.80" y2="332.30" stroke="#777" stroke-width="0.8"/>
<text x="282.49" y="340.14" font-family="'DejaVu Sans', sans-serif" font-weight="normal" font-size="7.28" textLength="4.63" lengthAdjust="spacingAndGlyphs" fill="#222" stroke="#222" stroke-width="0.1">0</text>
<line x1="332.04" y1="329.40" x2="332.04" y2="332.30" stroke="#777" stroke-width="0.8"/>
<text x="327.37" y="340.14" font-family="'DejaVu Sans', sans-serif" font-weight="normal" font-size="7.28" textLength="9.27" lengthAdjust="spacingAndGlyphs" fill="#222" stroke="#222" stroke-width="0.1">50</text>
<line x1="379.27" y1="329.40" x2="379.27" y2="332.30" stroke="#777" stroke-width="0.8"/>
<text x="372.17" y="340.14" font-family="'DejaVu Sans', sans-serif" font-weight="normal" font-size="7.28" textLength="13.90" lengthAdjust="spacingAndGlyphs" fill="#222" stroke="#222" stroke-width="0.1">100</text>
<line x1="426.50" y1="329.40" x2="426.50" y2="332.30" stroke="#777" stroke-width="0.8"/>
<text x="419.40" y="340.14" font-family="'DejaVu Sans', sans-serif" font-weight="normal" font-size="7.28" textLength="13.90" lengthAdjust="spacingAndGlyphs" fill="#222" stroke="#222" stroke-width="0.1">150</text>
<text x="330.54" y="351.66" font-family="'DejaVu Sans', sans-serif" font-weight="normal" font-size="7.98" textLength="54.01" lengthAdjust="spacingAndGlyphs" fill="#1e1e1e" stroke="#1e1e1e" stroke-width="0.1">Time (months)</text>
<text x="251.52" y="316.58" transform="rotate(-90 251.52 316.58)" font-family="'Liberation Sans', Arial, sans-serif" font-weight="bold" font-size="8.88" fill="#111" stroke="#111" stroke-width="0.25">First Progression Survival</text>
<text x="262.43" y="295.09" transform="rotate(-90 262.43 295.09)" font-family="'Liberation Sans', Arial, sans-serif" font-weight="bold" font-size="9.03" fill="#111" stroke="#111" stroke-width="0.25">Probability (FP)</text>
<text x="355.52" y="213.00" font-family="'Liberation Sans', Arial, sans-serif" font-weight="bold" font-size="7.17" textLength="73.84" lengthAdjust="spacingAndGlyphs" fill="#222" stroke="#222" stroke-width="0.05">HR = 1.42 (1.12 – 1.8)</text>
<text x="401.02" y="222.52" font-family="'Liberation Sans', Arial, sans-serif" font-weight="bold" font-size="7.61" textLength="27.56" lengthAdjust="spacingAndGlyphs" fill="#222" stroke="#222" stroke-width="0.05"><tspan font-style="italic">P</tspan> &lt; 0.01</text>
<text x="281.99" y="305.35" font-family="'DejaVu Sans', sans-serif" font-weight="normal" font-size="6.91" textLength="40.43" lengthAdjust="spacingAndGlyphs" fill="#1e1e1e" stroke="#1e1e1e" stroke-width="0.12">Expression</text>
<line x1="285.70" y1="313.60" x2="299.30" y2="313.60" stroke="#999" stroke-width="0.9"/>
<line x1="285.70" y1="321.40" x2="299.30" y2="321.40" stroke="#ff6a6a" stroke-width="0.9"/>
<text x="305.19" y="316.09" font-family="'DejaVu Sans', sans-serif" font-weight="normal" font-size="7.61" textLength="13.51" lengthAdjust="spacingAndGlyphs" fill="#1e1e1e" stroke="#1e1e1e" stroke-width="0.12">low</text>
<text x="305.19" y="324.16" font-family="'DejaVu Sans', sans-serif" font-weight="normal" font-size="7.32" textLength="17.29" lengthAdjust="spacingAndGlyphs" fill="#1e1e1e" stroke="#1e1e1e" stroke-width="0.12">high</text>
<text x="279.40" y="358.10" font-family="'DejaVu Sans', sans-serif" font-size="5.0" text-anchor="start" fill="#222" stroke="#222" stroke-width="0.1">Number at risk</text>
<text x="271.30" y="363.90" font-family="'DejaVu Sans', sans-serif" font-size="5.0" text-anchor="end" fill="#222" stroke="#222" stroke-width="0.1">low</text>
<text x="271.30" y="369.70" font-family="'DejaVu Sans', sans-serif" font-size="5.0" text-anchor="end" fill="#ff2020" stroke="#ff2020" stroke-width="0.1">high</text>
<text x="284.80" y="363.90" font-family="'DejaVu Sans', sans-serif" font-size="5.0" text-anchor="middle" fill="#222" stroke="#222" stroke-width="0.1">308</text>
<text x="284.80" y="369.70" font-family="'DejaVu Sans', sans-serif" font-size="5.0" text-anchor="middle" fill="#ff2020" stroke="#ff2020" stroke-width="0.1">214</text>
<text x="332.04" y="363.90" font-family="'DejaVu Sans', sans-serif" font-size="5.0" text-anchor="middle" fill="#222" stroke="#222" stroke-width="0.1">106</text>
<text x="332.04" y="369.70" font-family="'DejaVu Sans', sans-serif" font-size="5.0" text-anchor="middle" fill="#ff2020" stroke="#ff2020" stroke-width="0.1">56</text>
<text x="379.27" y="363.90" font-family="'DejaVu Sans', sans-serif" font-size="5.0" text-anchor="middle" fill="#222" stroke="#222" stroke-width="0.1">10</text>
<text x="379.27" y="369.70" font-family="'DejaVu Sans', sans-serif" font-size="5.0" text-anchor="middle" fill="#ff2020" stroke="#ff2020" stroke-width="0.1">22</text>
<text x="426.50" y="363.90" font-family="'DejaVu Sans', sans-serif" font-size="5.0" text-anchor="middle" fill="#222" stroke="#222" stroke-width="0.1">1</text>
<text x="426.50" y="369.70" font-family="'DejaVu Sans', sans-serif" font-size="5.0" text-anchor="middle" fill="#ff2020" stroke="#ff2020" stroke-width="0.1">0</text>
<polyline points="284.90,206.80 285.28,206.80 285.28,207.86 285.66,207.86 285.66,208.92 286.04,208.92 286.04,209.98 286.42,209.98 286.42,211.04 286.80,211.04 286.80,212.10 287.11,212.10 287.11,213.01 287.43,213.01 287.43,213.93 287.74,213.93 287.74,214.84 288.05,214.84 288.05,215.75 288.36,215.75 288.36,216.66 288.68,216.66 288.68,217.57 288.99,217.57 288.99,218.49 289.30,218.49 289.30,219.40 289.64,219.40 289.64,220.43 289.99,220.43 289.99,221.46 290.33,221.46 290.33,222.49 290.67,222.49 290.67,223.51 291.01,223.51 291.01,224.54 291.36,224.54 291.36,225.57 291.70,225.57 291.70,226.60 292.00,226.60 292.00,227.51 292.30,227.51 292.30,228.43 292.60,228.43 292.60,229.34 292.90,229.34 292.90,230.25 293.20,230.25 293.20,231.16 293.50,231.16 293.50,232.07 293.80,232.07 293.80,232.99 294.10,232.99 294.10,233.90 294.50,233.90 294.50,234.90 294.90,234.90 294.90,235.90 295.30,235.90 295.30,236.90 295.70,236.90 295.70,237.90 296.10,237.90 296.10,238.90 296.50,238.90 296.50,239.90 297.10,239.90 297.10,240.92 297.70,240.92 297.70,241.93 298.30,241.93 298.30,242.95 298.90,242.95 298.90,243.97 299.50,243.97 299.50,244.98 300.10,244.98 300.10,246.00 300.72,246.00 300.72,246.92 301.33,246.92 301.33,247.83 301.95,247.83 301.95,248.75 302.57,248.75 302.57,249.67 303.18,249.67 303.18,250.58 303.80,250.58 303.80,251.50 304.76,251.50 304.76,252.46 305.72,252.46 305.72,253.42 306.68,253.42 306.68,254.38 307.64,254.38 307.64,255.34 308.60,255.34 308.60,256.30 310.23,256.30 310.23,257.33 311.87,257.33 311.87,258.37 313.50,258.37 313.50,259.40 315.00,259.40 315.00,259.90 316.50,259.90 316.50,260.40 318.00,260.40 318.00,260.90 319.50,260.90 319.50,261.40 320.96,261.40 320.96,261.92 322.42,261.92 322.42,262.44 323.88,262.44 323.88,262.96 325.34,262.96 325.34,263.48 326.80,263.48 326.80,264.00 328.40,264.00 328.40,264.05 330.00,264.05 330.00,264.10 332.20,264.10 332.20,265.80 333.63,265.80 333.63,266.33 335.07,266.33 335.07,266.87 336.50,266.87 336.50,267.40 337.93,267.40 337.93,267.73 339.37,267.73 339.37,268.07 340.80,268.07 340.80,268.40 351.50,268.40 353.10,268.40 353.10,268.95 354.70,268.95 354.70,269.50 356.35,269.50 356.35,270.60 358.00,270.60 358.00,271.70 359.43,271.70 359.43,272.30 360.87,272.30 360.87,272.90 362.30,272.90 362.30,273.50 392.00,273.50 392.00,280.90 428.50,280.90" fill="none" stroke="#303030" stroke-width="0.65"/>
<path d="M334.45,266.87h3.1M336.00,265.17v3.4M338.45,268.07h3.1M340.00,266.37v3.4M343.45,268.40h3.1M345.00,266.70v3.4M348.45,268.40h3.1M350.00,266.70v3.4M350.45,268.40h3.1M352.00,266.70v3.4M356.45,271.70h3.1M358.00,270.00v3.4M360.45,272.90h3.1M362.00,271.20v3.4M363.45,273.50h3.1M365.00,271.80v3.4M366.45,273.50h3.1M368.00,271.80v3.4M369.45,273.50h3.1M371.00,271.80v3.4M372.45,273.50h3.1M374.00,271.80v3.4M375.45,273.50h3.1M377.00,271.80v3.4M378.45,273.50h3.1M380.00,271.80v3.4M388.15,273.50h3.1M389.70,271.80v3.4M393.35,280.90h3.1M394.90,279.20v3.4M398.45,280.90h3.1M400.00,279.20v3.4M406.55,280.90h3.1M408.10,279.20v3.4M409.25,280.90h3.1M410.80,279.20v3.4M426.95,280.90h3.1M428.50,279.20v3.4M328.53,264.10h3.1M330.08,262.40v3.4M290.91,228.43h3.1M292.46,226.73v3.4M285.54,212.10h3.1M287.09,210.40v3.4M330.39,264.10h3.1M331.94,262.40v3.4M292.93,233.90h3.1M294.48,232.20v3.4M290.00,225.57h3.1M291.55,223.87v3.4M314.42,259.90h3.1M315.97,258.20v3.4M300.35,247.83h3.1M301.90,246.13v3.4M325.37,264.00h3.1M326.92,262.30v3.4M295.11,239.90h3.1M296.66,238.20v3.4M328.59,264.10h3.1M330.14,262.40v3.4M299.14,246.00h3.1M300.69,244.30v3.4M312.10,259.40h3.1M313.65,257.70v3.4M327.33,264.05h3.1M328.88,262.35v3.4M315.97,260.40h3.1M317.52,258.70v3.4M326.95,264.05h3.1M328.50,262.35v3.4M317.02,260.90h3.1M318.57,259.20v3.4M286.68,215.75h3.1M288.23,214.05v3.4M324.99,263.48h3.1M326.54,261.78v3.4M311.57,258.37h3.1M313.12,256.67v3.4M298.74,246.00h3.1M300.29,244.30v3.4M293.20,234.90h3.1M294.75,233.20v3.4M323.54,262.96h3.1M325.09,261.26v3.4M311.26,258.37h3.1M312.81,256.67v3.4M327.60,264.05h3.1M329.15,262.35v3.4M320.05,261.92h3.1M321.60,260.22v3.4M328.66,264.10h3.1M330.21,262.40v3.4M310.50,258.37h3.1M312.05,256.67v3.4M316.58,260.90h3.1M318.13,259.20v3.4M312.62,259.40h3.1M314.17,257.70v3.4M296.34,241.93h3.1M297.89,240.23v3.4M328.46,264.10h3.1M330.01,262.40v3.4M298.82,246.00h3.1M300.37,244.30v3.4M320.38,261.92h3.1M321.93,260.22v3.4M328.36,264.05h3.1M329.91,262.35v3.4M314.39,259.90h3.1M315.94,258.20v3.4M290.99,228.43h3.1M292.54,226.73v3.4M322.41,262.96h3.1M323.96,261.26v3.4M315.16,260.40h3.1M316.71,258.70v3.4M292.96,234.90h3.1M294.51,233.20v3.4" stroke="#202020" stroke-width="0.7" fill="none"/>
<polyline points="284.90,206.80 285.14,206.80 285.14,207.77 285.38,207.77 285.38,208.74 285.62,208.74 285.62,209.71 285.85,209.71 285.85,210.68 286.09,210.68 286.09,211.65 286.33,211.65 286.33,212.62 286.57,212.62 286.57,213.58 286.81,213.58 286.81,214.55 287.05,214.55 287.05,215.52 287.28,215.52 287.28,216.49 287.52,216.49 287.52,217.46 287.76,217.46 287.76,218.43 288.00,218.43 288.00,219.40 288.23,219.40 288.23,220.38 288.45,220.38 288.45,221.36 288.68,221.36 288.68,222.35 288.91,222.35 288.91,223.33 289.14,223.33 289.14,224.31 289.36,224.31 289.36,225.29 289.59,225.29 289.59,226.27 289.82,226.27 289.82,227.25 290.05,227.25 290.05,228.24 290.27,228.24 290.27,229.22 290.50,229.22 290.50,230.20 290.70,230.20 290.70,231.11 290.90,231.11 290.90,232.02 291.10,232.02 291.10,232.92 291.30,232.92 291.30,233.83 291.50,233.83 291.50,234.74 291.70,234.74 291.70,235.65 291.90,235.65 291.90,236.56 292.10,236.56 292.10,237.47 292.30,237.47 292.30,238.38 292.50,238.38 292.50,239.28 292.70,239.28 292.70,240.19 292.90,240.19 292.90,241.10 293.17,241.10 293.17,242.04 293.43,242.04 293.43,242.99 293.70,242.99 293.70,243.93 293.97,243.93 293.97,244.88 294.23,244.88 294.23,245.82 294.50,245.82 294.50,246.77 294.77,246.77 294.77,247.71 295.03,247.71 295.03,248.66 295.30,248.66 295.30,249.60 295.75,249.60 295.75,250.51 296.20,250.51 296.20,251.42 296.65,251.42 296.65,252.34 297.10,252.34 297.10,253.25 297.55,253.25 297.55,254.16 298.00,254.16 298.00,255.07 298.45,255.07 298.45,255.99 298.90,255.99 298.90,256.90 299.52,256.90 299.52,257.90 300.13,257.90 300.13,258.90 300.75,258.90 300.75,259.90 301.37,259.90 301.37,260.90 301.98,260.90 301.98,261.90 302.60,261.90 302.60,262.90 303.50,262.90 303.50,264.00 304.40,264.00 304.40,265.10 305.30,265.10 305.30,266.20 306.20,266.20 306.20,267.30 307.40,267.30 307.40,268.32 308.60,268.32 308.60,269.35 309.80,269.35 309.80,270.38 311.00,270.38 311.00,271.40 312.52,271.40 312.52,272.30 314.05,272.30 314.05,273.20 315.58,273.20 315.58,274.10 317.10,274.10 317.10,275.00 318.70,275.00 318.70,275.80 320.30,275.80 320.30,276.60 321.90,276.60 321.90,277.40 323.53,277.40 323.53,278.07 325.17,278.07 325.17,278.73 326.80,278.73 326.80,279.40 328.40,279.40 328.40,280.00 330.00,280.00 330.00,280.60 331.80,280.60 331.80,280.73 333.60,280.73 333.60,280.87 335.40,280.87 335.40,281.00 337.20,281.00 337.20,281.30 339.00,281.30 339.00,281.60 340.80,281.60 340.80,281.90 353.70,281.90 355.30,281.90 355.30,282.85 356.90,282.85 356.90,283.80 358.33,283.80 358.33,284.77 359.77,284.77 359.77,285.73 361.20,285.73 361.20,286.70 362.63,286.70 362.63,287.23 364.07,287.23 364.07,287.77 365.50,287.77 365.50,288.30 366.93,288.30 366.93,288.60 368.37,288.60 368.37,288.90 369.80,288.90 369.80,289.20 371.23,289.20 371.23,289.63 372.67,289.63 372.67,290.07 374.10,290.07 374.10,290.50 401.70,290.50 401.87,290.50 401.87,291.50 402.03,291.50 402.03,292.50 402.20,292.50 402.20,293.50 403.00,293.50 403.00,294.85 403.80,294.85 403.80,296.20 403.80,298.30 425.30,298.30" fill="none" stroke="#ff2a2a" stroke-width="0.65"/>
<path d="M330.45,280.73h3.1M332.00,279.03v3.4M335.45,281.00h3.1M337.00,279.30v3.4M338.45,281.60h3.1M340.00,279.90v3.4M348.45,281.90h3.1M350.00,280.20v3.4M352.45,281.90h3.1M354.00,280.20v3.4M355.45,283.80h3.1M357.00,282.10v3.4M360.45,286.70h3.1M362.00,285.00v3.4M363.45,287.77h3.1M365.00,286.07v3.4M365.45,288.60h3.1M367.00,286.90v3.4M371.45,290.07h3.1M373.00,288.37v3.4M381.15,290.50h3.1M382.70,288.80v3.4M385.45,290.50h3.1M387.00,288.80v3.4M385.05,290.50h3.1M386.60,288.80v3.4M388.25,290.50h3.1M389.80,288.80v3.4M394.25,290.50h3.1M395.80,288.80v3.4M395.25,290.50h3.1M396.80,288.80v3.4M399.55,290.50h3.1M401.10,288.80v3.4M405.45,298.30h3.1M407.00,296.60v3.4M409.25,298.30h3.1M410.80,296.60v3.4M417.85,298.30h3.1M419.40,296.60v3.4M420.05,298.30h3.1M421.60,296.60v3.4M423.25,298.30h3.1M424.80,296.60v3.4M291.71,242.04h3.1M293.26,240.34v3.4M314.80,274.10h3.1M316.35,272.40v3.4M312.39,272.30h3.1M313.94,270.60v3.4M305.53,267.30h3.1M307.08,265.60v3.4M293.95,249.60h3.1M295.50,247.90v3.4M319.33,276.60h3.1M320.88,274.90v3.4M320.00,276.60h3.1M321.55,274.90v3.4M307.00,268.32h3.1M308.55,266.62v3.4M306.67,268.32h3.1M308.22,266.62v3.4M294.84,251.42h3.1M296.39,249.72v3.4M284.59,211.65h3.1M286.14,209.95v3.4M300.78,261.90h3.1M302.33,260.20v3.4M310.21,271.40h3.1M311.76,269.70v3.4M287.50,223.33h3.1M289.05,221.63v3.4M319.38,276.60h3.1M320.93,274.90v3.4M294.67,251.42h3.1M296.22,249.72v3.4M294.69,251.42h3.1M296.24,249.72v3.4M286.31,218.43h3.1M287.86,216.73v3.4M328.34,280.00h3.1M329.89,278.30v3.4M316.95,275.00h3.1M318.50,273.30v3.4M322.95,278.07h3.1M324.50,276.37v3.4M311.55,272.30h3.1M313.10,270.60v3.4" stroke="#ff2a2a" stroke-width="0.7" fill="none"/>
<text x="467.23" y="191.30" font-family="'Liberation Sans', Arial, sans-serif" font-weight="bold" font-size="14.93" textLength="11.87" lengthAdjust="spacingAndGlyphs" fill="#000" stroke="#000" stroke-width="0.25">H</text>
<text x="560.04" y="196.61" font-family="'Liberation Sans', Arial, sans-serif" font-weight="bold" font-size="9.25" textLength="37.10" lengthAdjust="spacingAndGlyphs" fill="#1a1a1a" stroke="#1a1a1a" stroke-width="0.25">Kindlin-1</text>
<rect x="503.0" y="201.4" width="154.89999999999998" height="127.99999999999997" fill="none" stroke="#a8a8a8" stroke-width="0.9"/>
<line x1="500.00" y1="324.60" x2="503.00" y2="324.60" stroke="#777" stroke-width="0.8"/>
<text x="496.04" y="330.18" transform="rotate(-90 496.04 330.18)" font-family="'DejaVu Sans', sans-serif" font-weight="normal" font-size="7.02" textLength="11.16" lengthAdjust="spacingAndGlyphs" fill="#222" stroke="#222" stroke-width="0.1">0.0</text>
<line x1="500.00" y1="300.94" x2="503.00" y2="300.94" stroke="#777" stroke-width="0.8"/>
<text x="496.04" y="306.42" transform="rotate(-90 496.04 306.42)" font-family="'DejaVu Sans', sans-serif" font-weight="normal" font-size="7.02" textLength="11.16" lengthAdjust="spacingAndGlyphs" fill="#222" stroke="#222" stroke-width="0.1">0.2</text>
<line x1="500.00" y1="277.28" x2="503.00" y2="277.28" stroke="#777" stroke-width="0.8"/>
<text x="496.04" y="282.91" transform="rotate(-90 496.04 282.91)" font-family="'DejaVu Sans', sans-serif" font-weight="normal" font-size="7.02" textLength="11.16" lengthAdjust="spacingAndGlyphs" fill="#222" stroke="#222" stroke-width="0.1">0.4</text>
<line x1="500.00" y1="253.62" x2="503.00" y2="253.62" stroke="#777" stroke-width="0.8"/>
<text x="496.04" y="259.22" transform="rotate(-90 496.04 259.22)" font-family="'DejaVu Sans', sans-serif" font-weight="normal" font-size="7.02" textLength="11.16" lengthAdjust="spacingAndGlyphs" fill="#222" stroke="#222" stroke-width="0.1">0.6</text>
<line x1="500.00" y1="229.96" x2="503.00" y2="229.96" stroke="#777" stroke-width="0.8"/>
<text x="496.04" y="235.54" transform="rotate(-90 496.04 235.54)" font-family="'DejaVu Sans', sans-serif" font-weight="normal" font-size="7.02" textLength="11.16" lengthAdjust="spacingAndGlyphs" fill="#222" stroke="#222" stroke-width="0.1">0.8</text>
<line x1="500.00" y1="206.30" x2="503.00" y2="206.30" stroke="#777" stroke-width="0.8"/>
<text x="496.04" y="212.02" transform="rotate(-90 496.04 212.02)" font-family="'DejaVu Sans', sans-serif" font-weight="normal" font-size="7.02" textLength="11.16" lengthAdjust="spacingAndGlyphs" fill="#222" stroke="#222" stroke-width="0.1">1.0</text>
<line x1="508.60" y1="329.40" x2="508.60" y2="332.30" stroke="#777" stroke-width="0.8"/>
<text x="506.29" y="340.14" font-family="'DejaVu Sans', sans-serif" font-weight="normal" font-size="7.28" textLength="4.63" lengthAdjust="spacingAndGlyphs" fill="#222" stroke="#222" stroke-width="0.1">0</text>
<line x1="540.02" y1="329.40" x2="540.02" y2="332.30" stroke="#777" stroke-width="0.8"/>
<text x="535.38" y="340.14" font-family="'DejaVu Sans', sans-serif" font-weight="normal" font-size="7.28" textLength="9.27" lengthAdjust="spacingAndGlyphs" fill="#222" stroke="#222" stroke-width="0.1">20</text>
<line x1="571.44" y1="329.40" x2="571.44" y2="332.30" stroke="#777" stroke-width="0.8"/>
<text x="566.89" y="340.14" font-family="'DejaVu Sans', sans-serif" font-weight="normal" font-size="7.28" textLength="9.27" lengthAdjust="spacingAndGlyphs" fill="#222" stroke="#222" stroke-width="0.1">40</text>
<line x1="602.86" y1="329.40" x2="602.86" y2="332.30" stroke="#777" stroke-width="0.8"/>
<text x="598.23" y="340.14" font-family="'DejaVu Sans', sans-serif" font-weight="normal" font-size="7.28" textLength="9.27" lengthAdjust="spacingAndGlyphs" fill="#222" stroke="#222" stroke-width="0.1">60</text>
<line x1="634.28" y1="329.40" x2="634.28" y2="332.30" stroke="#777" stroke-width="0.8"/>
<text x="629.65" y="340.14" font-family="'DejaVu Sans', sans-serif" font-weight="normal" font-size="7.28" textLength="9.27" lengthAdjust="spacingAndGlyphs" fill="#222" stroke="#222" stroke-width="0.1">80</text>
<text x="554.34" y="351.66" font-family="'DejaVu Sans', sans-serif" font-weight="normal" font-size="7.98" textLength="54.11" lengthAdjust="spacingAndGlyphs" fill="#1e1e1e" stroke="#1e1e1e" stroke-width="0.1">Time (months)</text>
<text x="476.94" y="316.58" transform="rotate(-90 476.94 316.58)" font-family="'Liberation Sans', Arial, sans-serif" font-weight="bold" font-size="8.89" fill="#111" stroke="#111" stroke-width="0.25">Post Progression Survival</text>
<text x="486.82" y="297.78" transform="rotate(-90 486.82 297.78)" font-family="'Liberation Sans', Arial, sans-serif" font-weight="bold" font-size="8.86" fill="#111" stroke="#111" stroke-width="0.25">Probability (PPS)</text>
<text x="577.51" y="213.00" font-family="'Liberation Sans', Arial, sans-serif" font-weight="bold" font-size="7.17" textLength="73.84" lengthAdjust="spacingAndGlyphs" fill="#222" stroke="#222" stroke-width="0.05">HR = 2.11 (1.6 – 2.77)</text>
<text x="618.82" y="222.52" font-family="'Liberation Sans', Arial, sans-serif" font-weight="bold" font-size="7.61" textLength="31.77" lengthAdjust="spacingAndGlyphs" fill="#222" stroke="#222" stroke-width="0.05"><tspan font-style="italic">P</tspan> &lt; 0.001</text>
<text x="505.79" y="305.35" font-family="'DejaVu Sans', sans-serif" font-weight="normal" font-size="6.91" textLength="40.43" lengthAdjust="spacingAndGlyphs" fill="#1e1e1e" stroke="#1e1e1e" stroke-width="0.12">Expression</text>
<line x1="509.50" y1="313.60" x2="523.10" y2="313.60" stroke="#999" stroke-width="0.9"/>
<line x1="509.50" y1="321.40" x2="523.10" y2="321.40" stroke="#ff6a6a" stroke-width="0.9"/>
<text x="528.99" y="316.09" font-family="'DejaVu Sans', sans-serif" font-weight="normal" font-size="7.61" textLength="13.51" lengthAdjust="spacingAndGlyphs" fill="#1e1e1e" stroke="#1e1e1e" stroke-width="0.12">low</text>
<text x="528.99" y="324.16" font-family="'DejaVu Sans', sans-serif" font-weight="normal" font-size="7.32" textLength="17.29" lengthAdjust="spacingAndGlyphs" fill="#1e1e1e" stroke="#1e1e1e" stroke-width="0.12">high</text>
<text x="503.10" y="358.10" font-family="'DejaVu Sans', sans-serif" font-size="5.0" text-anchor="start" fill="#222" stroke="#222" stroke-width="0.1">Number at risk</text>
<text x="495.00" y="363.90" font-family="'DejaVu Sans', sans-serif" font-size="5.0" text-anchor="end" fill="#222" stroke="#222" stroke-width="0.1">low</text>
<text x="495.00" y="369.70" font-family="'DejaVu Sans', sans-serif" font-size="5.0" text-anchor="end" fill="#ff2020" stroke="#ff2020" stroke-width="0.1">high</text>
<text x="508.60" y="363.90" font-family="'DejaVu Sans', sans-serif" font-size="5.0" text-anchor="middle" fill="#222" stroke="#222" stroke-width="0.1">235</text>
<text x="508.60" y="369.70" font-family="'DejaVu Sans', sans-serif" font-size="5.0" text-anchor="middle" fill="#ff2020" stroke="#ff2020" stroke-width="0.1">149</text>
<text x="540.02" y="363.90" font-family="'DejaVu Sans', sans-serif" font-size="5.0" text-anchor="middle" fill="#222" stroke="#222" stroke-width="0.1">62</text>
<text x="540.02" y="369.70" font-family="'DejaVu Sans', sans-serif" font-size="5.0" text-anchor="middle" fill="#ff2020" stroke="#ff2020" stroke-width="0.1">19</text>
<text x="571.44" y="363.90" font-family="'DejaVu Sans', sans-serif" font-size="5.0" text-anchor="middle" fill="#222" stroke="#222" stroke-width="0.1">27</text>
<text x="571.44" y="369.70" font-family="'DejaVu Sans', sans-serif" font-size="5.0" text-anchor="middle" fill="#ff2020" stroke="#ff2020" stroke-width="0.1">7</text>
<text x="602.86" y="363.90" font-family="'DejaVu Sans', sans-serif" font-size="5.0" text-anchor="middle" fill="#222" stroke="#222" stroke-width="0.1">19</text>
<text x="602.86" y="369.70" font-family="'DejaVu Sans', sans-serif" font-size="5.0" text-anchor="middle" fill="#ff2020" stroke="#ff2020" stroke-width="0.1">5</text>
<text x="634.28" y="363.90" font-family="'DejaVu Sans', sans-serif" font-size="5.0" text-anchor="middle" fill="#222" stroke="#222" stroke-width="0.1">6</text>
<text x="634.28" y="369.70" font-family="'DejaVu Sans', sans-serif" font-size="5.0" text-anchor="middle" fill="#ff2020" stroke="#ff2020" stroke-width="0.1">2</text>
<polyline points="509.00,207.60 509.27,207.60 509.27,208.55 509.53,208.55 509.53,209.50 509.80,209.50 509.80,210.45 510.07,210.45 510.07,211.40 510.33,211.40 510.33,212.35 510.60,212.35 510.60,213.30 511.02,213.30 511.02,214.23 511.43,214.23 511.43,215.17 511.85,215.17 511.85,216.10 512.27,216.10 512.27,217.03 512.68,217.03 512.68,217.97 513.10,217.97 513.10,218.90 513.40,218.90 513.40,219.81 513.70,219.81 513.70,220.72 514.00,220.72 514.00,221.64 514.30,221.64 514.30,222.55 514.60,222.55 514.60,223.46 514.90,223.46 514.90,224.38 515.20,224.38 515.20,225.29 515.50,225.29 515.50,226.20 515.84,226.20 515.84,227.11 516.19,227.11 516.19,228.03 516.53,228.03 516.53,228.94 516.87,228.94 516.87,229.86 517.21,229.86 517.21,230.77 517.56,230.77 517.56,231.69 517.90,231.69 517.90,232.60 518.54,232.60 518.54,233.58 519.18,233.58 519.18,234.56 519.82,234.56 519.82,235.54 520.46,235.54 520.46,236.52 521.10,236.52 521.10,237.50 521.50,237.50 521.50,238.43 521.90,238.43 521.90,239.37 522.30,239.37 522.30,240.30 522.70,240.30 522.70,241.23 523.10,241.23 523.10,242.17 523.50,242.17 523.50,243.10 523.78,243.10 523.78,244.05 524.07,244.05 524.07,245.00 524.35,245.00 524.35,245.95 524.63,245.95 524.63,246.90 524.92,246.90 524.92,247.85 525.20,247.85 525.20,248.80 525.80,248.80 525.80,249.80 526.40,249.80 526.40,250.80 527.00,250.80 527.00,251.80 527.60,251.80 527.60,252.80 528.67,252.80 528.67,253.87 529.73,253.87 529.73,254.93 530.80,254.93 530.80,256.00 531.68,256.00 531.68,256.90 532.56,256.90 532.56,257.80 533.44,257.80 533.44,258.70 534.32,258.70 534.32,259.60 535.20,259.60 535.20,260.50 536.53,260.50 536.53,261.57 537.85,261.57 537.85,262.65 539.17,262.65 539.17,263.73 540.50,263.73 540.50,264.80 541.93,264.80 541.93,265.50 543.37,265.50 543.37,266.20 544.80,266.20 544.80,266.90 546.55,266.90 546.55,267.35 548.30,267.35 548.30,267.80 548.75,267.80 548.75,268.80 549.20,268.80 549.20,269.80 549.65,269.80 549.65,270.80 550.10,270.80 550.10,271.80 550.52,271.80 550.52,272.90 550.95,272.90 550.95,274.00 551.38,274.00 551.38,275.10 551.80,275.10 551.80,276.20 553.27,276.20 553.27,276.67 554.73,276.67 554.73,277.13 556.20,277.13 556.20,277.60 557.60,277.60 557.60,277.94 559.00,277.94 559.00,278.28 560.40,278.28 560.40,278.62 561.80,278.62 561.80,278.96 563.20,278.96 563.20,279.30 564.65,279.30 564.65,279.60 566.10,279.60 566.10,279.90 567.55,279.90 567.55,280.20 569.00,280.20 569.00,280.50 570.45,280.50 570.45,280.80 571.90,280.80 571.90,281.10 573.44,281.10 573.44,281.13 574.99,281.13 574.99,281.17 576.53,281.17 576.53,281.20 578.08,281.20 578.08,281.23 579.62,281.23 579.62,281.27 581.17,281.27 581.17,281.30 582.71,281.30 582.71,281.33 584.26,281.33 584.26,281.37 585.80,281.37 585.80,281.40 588.50,281.40 588.50,282.80 589.91,282.80 589.91,282.82 591.33,282.82 591.33,282.85 592.74,282.85 592.74,282.88 594.15,282.88 594.15,282.90 595.56,282.90 595.56,282.93 596.98,282.93 596.98,282.95 598.39,282.95 598.39,282.98 599.80,282.98 599.80,283.00 601.21,283.00 601.21,283.02 602.62,283.02 602.62,283.05 604.04,283.05 604.04,283.07 605.45,283.07 605.45,283.10 606.86,283.10 606.86,283.12 608.27,283.12 608.27,283.15 609.69,283.15 609.69,283.18 611.10,283.18 611.10,283.20 611.10,286.10 653.00,286.10" fill="none" stroke="#303030" stroke-width="0.65"/>
<path d="M556.45,277.94h3.1M558.00,276.24v3.4M560.45,278.96h3.1M562.00,277.26v3.4M562.45,279.30h3.1M564.00,277.60v3.4M564.45,279.60h3.1M566.00,277.90v3.4M565.95,279.90h3.1M567.50,278.20v3.4M567.45,280.50h3.1M569.00,278.80v3.4M569.45,280.80h3.1M571.00,279.10v3.4M583.45,281.37h3.1M585.00,279.67v3.4M586.95,282.80h3.1M588.50,281.10v3.4M596.65,282.95h3.1M598.20,281.25v3.4M599.05,283.00h3.1M600.60,281.30v3.4M601.55,283.05h3.1M603.10,281.35v3.4M603.95,283.10h3.1M605.50,281.40v3.4M606.35,283.12h3.1M607.90,281.43v3.4M608.75,283.18h3.1M610.30,281.48v3.4M613.65,286.10h3.1M615.20,284.40v3.4M623.25,286.10h3.1M624.80,284.40v3.4M624.95,286.10h3.1M626.50,284.40v3.4M634.55,286.10h3.1M636.10,284.40v3.4M637.85,286.10h3.1M639.40,284.40v3.4M640.25,286.10h3.1M641.80,284.40v3.4M644.25,286.10h3.1M645.80,284.40v3.4M650.75,286.10h3.1M652.30,284.40v3.4M552.49,276.67h3.1M554.04,274.97v3.4M514.05,226.20h3.1M515.60,224.50v3.4M508.56,211.40h3.1M510.11,209.70v3.4M554.39,277.13h3.1M555.94,275.43v3.4M516.11,231.69h3.1M517.66,229.99v3.4M513.12,223.46h3.1M514.67,221.76v3.4M538.07,263.73h3.1M539.62,262.03v3.4M523.70,248.80h3.1M525.25,247.10v3.4M549.26,272.90h3.1M550.81,271.20v3.4M518.34,235.54h3.1M519.89,233.84v3.4M552.55,276.67h3.1M554.10,274.97v3.4M522.46,244.05h3.1M524.01,242.35v3.4M535.70,261.57h3.1M537.25,259.88v3.4M551.26,276.20h3.1M552.81,274.50v3.4M539.66,264.80h3.1M541.21,263.10v3.4M550.87,276.20h3.1M552.42,274.50v3.4M540.73,265.50h3.1M542.28,263.80v3.4M509.73,214.23h3.1M511.28,212.53v3.4M548.87,271.80h3.1M550.42,270.10v3.4M535.16,261.57h3.1M536.71,259.88v3.4M522.05,243.10h3.1M523.60,241.40v3.4M516.39,232.60h3.1M517.94,230.90v3.4M547.39,268.80h3.1M548.94,267.10v3.4M534.84,260.50h3.1M536.39,258.80v3.4M551.54,276.20h3.1M553.09,274.50v3.4M543.83,266.90h3.1M545.38,265.20v3.4M552.63,276.67h3.1M554.18,274.97v3.4M534.07,260.50h3.1M535.62,258.80v3.4M540.27,264.80h3.1M541.82,263.10v3.4M536.23,261.57h3.1M537.78,259.88v3.4M519.60,237.50h3.1M521.15,235.80v3.4M552.42,276.67h3.1M553.97,274.97v3.4M522.14,243.10h3.1M523.69,241.40v3.4M544.16,266.90h3.1M545.71,265.20v3.4M552.32,276.67h3.1M553.87,274.97v3.4M538.04,263.73h3.1M539.59,262.03v3.4M514.13,226.20h3.1M515.68,224.50v3.4M546.24,267.35h3.1M547.79,265.65v3.4M538.82,263.73h3.1M540.37,262.03v3.4M516.15,231.69h3.1M517.70,229.99v3.4M509.76,214.23h3.1M511.31,212.53v3.4M532.45,258.70h3.1M534.00,257.00v3.4M508.97,212.35h3.1M510.52,210.65v3.4M550.93,276.20h3.1M552.48,274.50v3.4M531.25,257.80h3.1M532.80,256.10v3.4M531.76,257.80h3.1M533.31,256.10v3.4M526.69,252.80h3.1M528.24,251.10v3.4M538.52,263.73h3.1M540.07,262.03v3.4M550.52,276.20h3.1M552.07,274.50v3.4M521.89,242.17h3.1M523.44,240.47v3.4" stroke="#202020" stroke-width="0.7" fill="none"/>
<polyline points="509.00,207.60 509.20,207.60 509.20,208.51 509.40,208.51 509.40,209.43 509.60,209.43 509.60,210.34 509.80,210.34 509.80,211.25 510.00,211.25 510.00,212.16 510.20,212.16 510.20,213.07 510.40,213.07 510.40,213.99 510.60,213.99 510.60,214.90 510.74,214.90 510.74,215.84 510.88,215.84 510.88,216.78 511.02,216.78 511.02,217.72 511.17,217.72 511.17,218.67 511.31,218.67 511.31,219.61 511.45,219.61 511.45,220.55 511.59,220.55 511.59,221.49 511.73,221.49 511.73,222.43 511.88,222.43 511.88,223.38 512.02,223.38 512.02,224.32 512.16,224.32 512.16,225.26 512.30,225.26 512.30,226.20 512.45,226.20 512.45,227.15 512.59,227.15 512.59,228.11 512.74,228.11 512.74,229.06 512.88,229.06 512.88,230.02 513.03,230.02 513.03,230.97 513.17,230.97 513.17,231.93 513.32,231.93 513.32,232.88 513.46,232.88 513.46,233.84 513.61,233.84 513.61,234.79 513.75,234.79 513.75,235.75 513.90,235.75 513.90,236.70 514.08,236.70 514.08,237.68 514.26,237.68 514.26,238.66 514.43,238.66 514.43,239.63 514.61,239.63 514.61,240.61 514.79,240.61 514.79,241.59 514.97,241.59 514.97,242.57 515.14,242.57 515.14,243.54 515.32,243.54 515.32,244.52 515.50,244.52 515.50,245.50 515.73,245.50 515.73,246.43 515.96,246.43 515.96,247.36 516.19,247.36 516.19,248.29 516.41,248.29 516.41,249.21 516.64,249.21 516.64,250.14 516.87,250.14 516.87,251.07 517.10,251.07 517.10,252.00 517.37,252.00 517.37,252.93 517.63,252.93 517.63,253.87 517.90,253.87 517.90,254.80 518.17,254.80 518.17,255.73 518.43,255.73 518.43,256.67 518.70,256.67 518.70,257.60 518.94,257.60 518.94,258.55 519.17,258.55 519.17,259.49 519.41,259.49 519.41,260.44 519.65,260.44 519.65,261.38 519.88,261.38 519.88,262.33 520.12,262.33 520.12,263.27 520.35,263.27 520.35,264.22 520.59,264.22 520.59,265.16 520.83,265.16 520.83,266.11 521.06,266.11 521.06,267.05 521.30,267.05 521.30,268.00 521.56,268.00 521.56,268.95 521.83,268.95 521.83,269.89 522.09,269.89 522.09,270.84 522.35,270.84 522.35,271.78 522.62,271.78 522.62,272.73 522.88,272.73 522.88,273.67 523.15,273.67 523.15,274.62 523.41,274.62 523.41,275.56 523.67,275.56 523.67,276.51 523.94,276.51 523.94,277.45 524.20,277.45 524.20,278.40 524.58,278.40 524.58,279.32 524.95,279.32 524.95,280.25 525.33,280.25 525.33,281.18 525.70,281.18 525.70,282.10 526.08,282.10 526.08,283.02 526.45,283.02 526.45,283.95 526.83,283.95 526.83,284.88 527.20,284.88 527.20,285.80 528.33,285.80 528.33,286.88 529.45,286.88 529.45,287.95 530.58,287.95 530.58,289.03 531.70,289.03 531.70,290.10 532.15,290.10 532.15,291.03 532.60,291.03 532.60,291.97 533.05,291.97 533.05,292.90 533.50,292.90 533.50,293.83 533.95,293.83 533.95,294.77 534.40,294.77 534.40,295.70 536.15,295.70 536.15,296.60 537.90,296.60 537.90,297.50 539.33,297.50 539.33,297.97 540.77,297.97 540.77,298.43 542.20,298.43 542.20,298.90 543.95,298.90 543.95,299.75 545.70,299.75 545.70,300.60 546.58,300.60 546.58,301.70 547.45,301.70 547.45,302.80 548.33,302.80 548.33,303.90 549.20,303.90 549.20,305.00 550.95,305.00 550.95,305.60 552.70,305.60 552.70,306.20 554.45,306.20 554.45,307.05 556.20,307.05 556.20,307.90 594.60,307.90 595.45,307.90 595.45,309.05 596.30,309.05 596.30,310.20 641.00,310.20 641.00,324.80" fill="none" stroke="#ff2a2a" stroke-width="0.65"/>
<path d="M531.45,291.97h3.1M533.00,290.27v3.4M534.45,295.70h3.1M536.00,294.00v3.4M536.45,297.50h3.1M538.00,295.80v3.4M538.45,297.97h3.1M540.00,296.27v3.4M544.45,300.60h3.1M546.00,298.90v3.4M546.45,302.80h3.1M548.00,301.10v3.4M594.25,309.05h3.1M595.80,307.35v3.4M598.25,310.20h3.1M599.80,308.50v3.4M601.55,310.20h3.1M603.10,308.50v3.4M609.55,310.20h3.1M611.10,308.50v3.4M620.85,310.20h3.1M622.40,308.50v3.4M639.25,310.20h3.1M640.80,308.50v3.4M510.91,227.15h3.1M512.46,225.45v3.4M521.94,275.56h3.1M523.49,273.86v3.4M520.78,270.84h3.1M522.33,269.14v3.4M517.51,258.55h3.1M519.06,256.85v3.4M511.99,233.84h3.1M513.54,232.14v3.4M524.10,281.18h3.1M525.65,279.48v3.4M524.41,282.10h3.1M525.96,280.40v3.4M518.21,261.38h3.1M519.76,259.68v3.4M518.06,260.44h3.1M519.61,258.74v3.4M512.41,236.70h3.1M513.96,235.00v3.4M507.52,207.60h3.1M509.07,205.90v3.4M515.24,250.14h3.1M516.79,248.44v3.4M519.74,267.05h3.1M521.29,265.35v3.4M508.90,213.99h3.1M510.45,212.29v3.4M524.12,281.18h3.1M525.67,279.48v3.4M512.33,235.75h3.1M513.88,234.05v3.4M512.34,235.75h3.1M513.89,234.05v3.4M508.34,211.25h3.1M509.89,209.55v3.4" stroke="#ff2a2a" stroke-width="0.7" fill="none"/>
</svg>
</body></html>
